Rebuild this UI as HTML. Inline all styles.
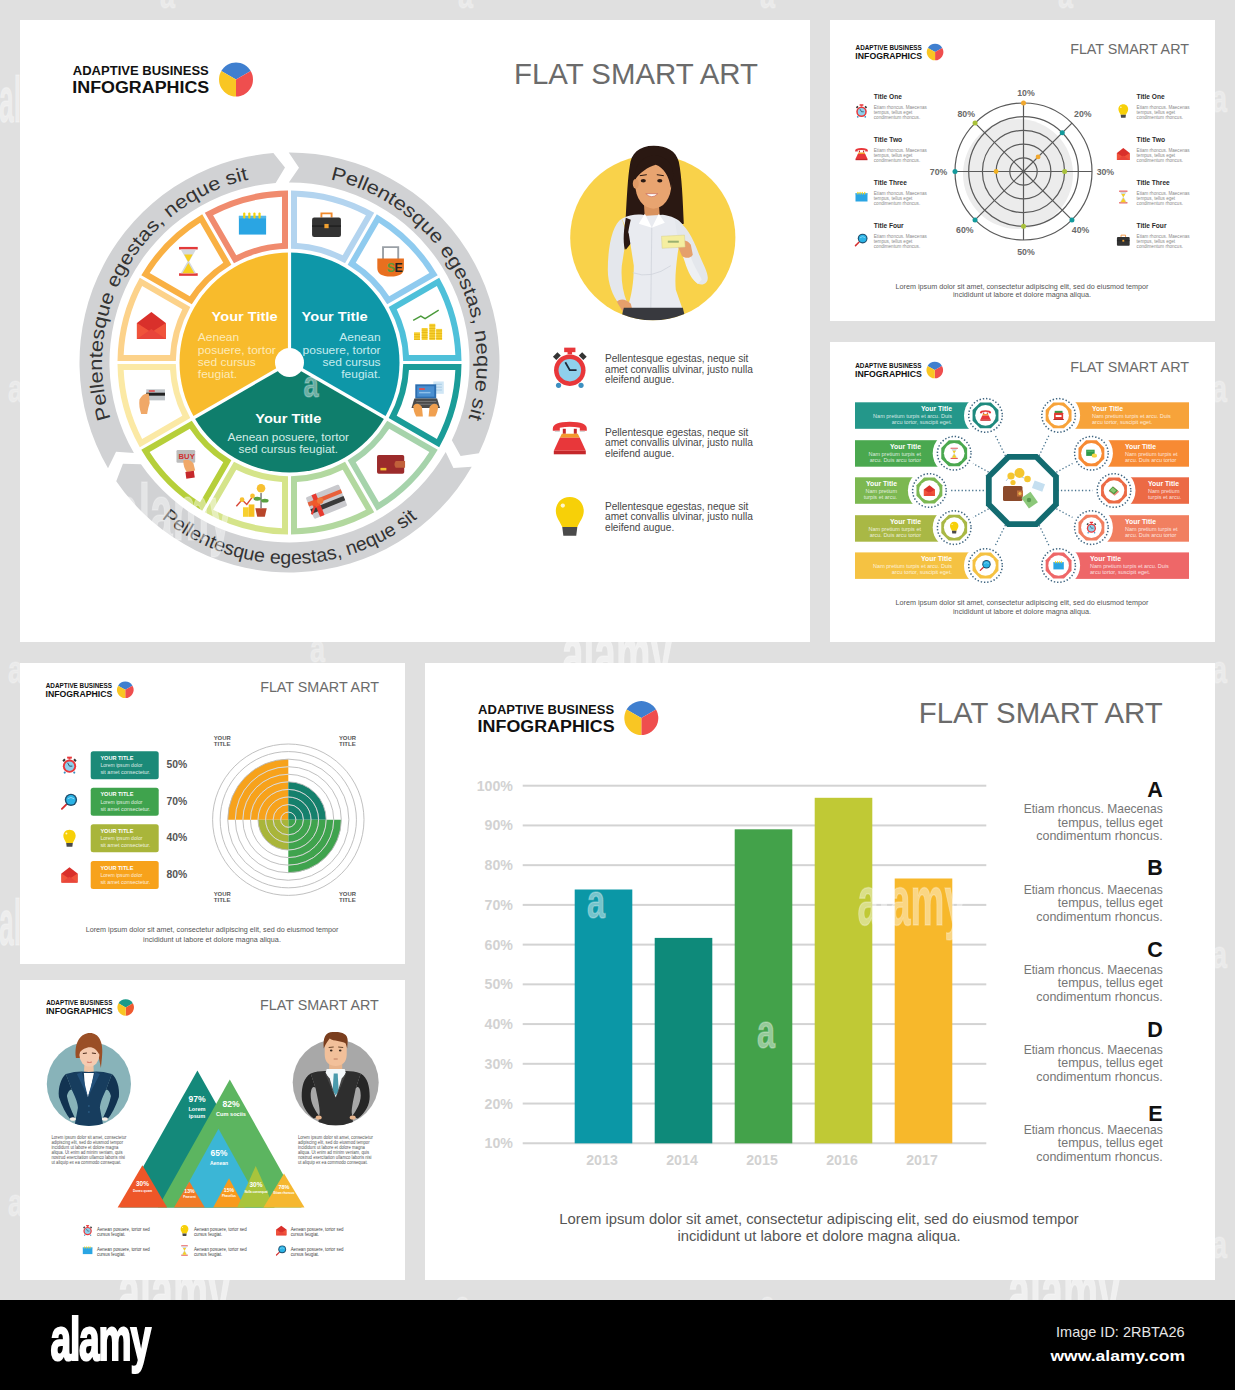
<!DOCTYPE html>
<html><head><meta charset="utf-8"><style>
html,body{margin:0;padding:0;background:#e0e0e0;}
svg{display:block;font-family:"Liberation Sans",sans-serif;}
</style></head><body>
<svg width="1235" height="1390" viewBox="0 0 1235 1390">
<rect x="0" y="0" width="1235" height="1390" fill="#e0e0e0"/>
<rect x="20" y="20" width="790" height="622" fill="#fff"/>
<rect x="830" y="20" width="385" height="301" fill="#fff"/>
<rect x="830" y="342" width="385" height="300" fill="#fff"/>
<rect x="20" y="663" width="385" height="301" fill="#fff"/>
<rect x="20" y="980" width="385" height="300" fill="#fff"/>
<rect x="425" y="663" width="790" height="617" fill="#fff"/>
<text x="72.80" y="75.21" font-size="13.10" fill="#111" font-weight="bold" textLength="136.00" lengthAdjust="spacingAndGlyphs" >ADAPTIVE BUSINESS</text>
<text x="72.30" y="93.47" font-size="17.40" fill="#111" font-weight="bold" textLength="137.00" lengthAdjust="spacingAndGlyphs" >INFOGRAPHICS</text>
<path d="M236.00,79.50 L221.28,71.00 A17.0,17.0 0 0 1 250.72,71.00 Z" fill="#3f7fcf"/>
<path d="M236.00,79.50 L250.72,71.00 A17.0,17.0 0 0 1 236.00,96.50 Z" fill="#ef4e4e"/>
<path d="M236.00,79.50 L236.00,96.50 A17.0,17.0 0 0 1 221.28,71.00 Z" fill="#f9c623"/>
<text x="758.00" y="83.88" font-size="30.20" fill="#6b6b6b" text-anchor="end" textLength="244.00" lengthAdjust="spacingAndGlyphs" >FLAT SMART ART</text>
<path d="M288.75,152.50 A210,210 0 0 1 478.90,453.21 L460.58,456.08 L451.84,440.25 A180,180 0 0 0 288.85,182.50 L299.00,167.73 Z" fill="#d1d2d4"/>
<path d="M471.74,466.85 A210,210 0 0 1 116.24,481.17 L122.92,463.87 L140.99,464.21 A180,180 0 0 0 445.71,451.94 L453.43,468.11 Z" fill="#d1d2d4"/>
<path d="M108.01,468.15 A210,210 0 0 1 273.36,153.12 L285.00,167.55 L275.67,183.03 A180,180 0 0 0 133.94,453.06 L116.08,451.66 Z" fill="#d1d2d4"/>
<defs>
<path id="arcTL" d="M119.57,441.74 A187.5,187.5 0 0 1 273.16,175.71"/>
<path id="arcTR" d="M305.84,175.71 A187.5,187.5 0 0 1 459.43,441.74"/>
<path id="arcB" d="M124.44,478.08 A201.5,201.5 0 0 0 454.56,478.08"/>
</defs>
<text font-size="19" fill="#333" text-anchor="middle"><textPath href="#arcTL" startOffset="50%" textLength="310" lengthAdjust="spacingAndGlyphs">Pellentesque egestas, neque sit</textPath></text>
<text font-size="19" fill="#333" text-anchor="middle"><textPath href="#arcTR" startOffset="50%" textLength="310" lengthAdjust="spacingAndGlyphs">Pellentesque egestas, neque sit</textPath></text>
<text font-size="19" fill="#333" text-anchor="middle"><textPath href="#arcB" startOffset="50%" textLength="277" lengthAdjust="spacingAndGlyphs">Pellentesque egestas, neque sit</textPath></text>
<path d="M291.00,190.51 A172,172 0 0 1 374.20,212.80 L345.05,263.29 A113.7,113.7 0 0 0 291.00,248.81 Z" fill="#b3d4ef"/>
<path d="M297.00,196.67 A166.0,166.0 0 0 1 365.92,215.14 L342.74,255.29 A119.7,119.7 0 0 0 297.00,243.04 Z" fill="#fff"/>
<path d="M376.80,214.30 A172,172 0 0 1 437.70,275.20 L387.21,304.36 A113.7,113.7 0 0 0 347.64,264.79 Z" fill="#8fcbef"/>
<path d="M378.91,222.64 A166.0,166.0 0 0 1 429.36,273.09 L389.21,296.27 A119.7,119.7 0 0 0 355.73,262.79 Z" fill="#fff"/>
<path d="M439.20,277.80 A172,172 0 0 1 461.49,361.00 L403.19,361.00 A113.7,113.7 0 0 0 388.71,306.95 Z" fill="#4ec0d9"/>
<path d="M436.86,286.08 A166.0,166.0 0 0 1 455.33,355.00 L408.96,355.00 A119.7,119.7 0 0 0 396.71,309.26 Z" fill="#fff"/>
<path d="M461.49,364.00 A172,172 0 0 1 439.20,447.20 L388.71,418.05 A113.7,113.7 0 0 0 403.19,364.00 Z" fill="#1a9c98"/>
<path d="M455.33,370.00 A166.0,166.0 0 0 1 436.86,438.92 L396.71,415.74 A119.7,119.7 0 0 0 408.96,370.00 Z" fill="#fff"/>
<path d="M437.70,449.80 A172,172 0 0 1 376.80,510.70 L347.64,460.21 A113.7,113.7 0 0 0 387.21,420.64 Z" fill="#a6d3ab"/>
<path d="M429.36,451.91 A166.0,166.0 0 0 1 378.91,502.36 L355.73,462.21 A119.7,119.7 0 0 0 389.21,428.73 Z" fill="#fff"/>
<path d="M374.20,512.20 A172,172 0 0 1 291.00,534.49 L291.00,476.19 A113.7,113.7 0 0 0 345.05,461.71 Z" fill="#b2d89f"/>
<path d="M365.92,509.86 A166.0,166.0 0 0 1 297.00,528.33 L297.00,481.96 A119.7,119.7 0 0 0 342.74,469.71 Z" fill="#fff"/>
<path d="M288.00,534.49 A172,172 0 0 1 204.80,512.20 L233.95,461.71 A113.7,113.7 0 0 0 288.00,476.19 Z" fill="#d5e48a"/>
<path d="M282.00,528.33 A166.0,166.0 0 0 1 213.08,509.86 L236.26,469.71 A119.7,119.7 0 0 0 282.00,481.96 Z" fill="#fff"/>
<path d="M202.20,510.70 A172,172 0 0 1 141.30,449.80 L191.79,420.64 A113.7,113.7 0 0 0 231.36,460.21 Z" fill="#b6cf3a"/>
<path d="M200.09,502.36 A166.0,166.0 0 0 1 149.64,451.91 L189.79,428.73 A119.7,119.7 0 0 0 223.27,462.21 Z" fill="#fff"/>
<path d="M139.80,447.20 A172,172 0 0 1 117.51,364.00 L175.81,364.00 A113.7,113.7 0 0 0 190.29,418.05 Z" fill="#fbe9a5"/>
<path d="M142.14,438.92 A166.0,166.0 0 0 1 123.67,370.00 L170.04,370.00 A119.7,119.7 0 0 0 182.29,415.74 Z" fill="#fff"/>
<path d="M117.51,361.00 A172,172 0 0 1 139.80,277.80 L190.29,306.95 A113.7,113.7 0 0 0 175.81,361.00 Z" fill="#fcd28a"/>
<path d="M123.67,355.00 A166.0,166.0 0 0 1 142.14,286.08 L182.29,309.26 A119.7,119.7 0 0 0 170.04,355.00 Z" fill="#fff"/>
<path d="M141.30,275.20 A172,172 0 0 1 202.20,214.30 L231.36,264.79 A113.7,113.7 0 0 0 191.79,304.36 Z" fill="#f9b043"/>
<path d="M149.64,273.09 A166.0,166.0 0 0 1 200.09,222.64 L223.27,262.79 A119.7,119.7 0 0 0 189.79,296.27 Z" fill="#fff"/>
<path d="M204.80,212.80 A172,172 0 0 1 288.00,190.51 L288.00,248.81 A113.7,113.7 0 0 0 233.95,263.29 Z" fill="#f08b6e"/>
<path d="M213.08,215.14 A166.0,166.0 0 0 1 282.00,196.67 L282.00,243.04 A119.7,119.7 0 0 0 236.26,255.29 Z" fill="#fff"/>
<g transform="translate(309.51,207.37) scale(0.8500)"><path d="M14,12 L14,7 L26,7 L26,12" stroke="#f08a2c" stroke-width="2.2" fill="none"/><rect x="3" y="12" width="34" height="23" rx="2.5" fill="#333"/><rect x="3" y="21" width="34" height="2" fill="#222"/><rect x="17.5" y="19.5" width="5" height="5" fill="#f0a030"/></g>
<g transform="translate(371.62,242.38) scale(0.9500)"><path d="M12,18 L12,5 L28,5 L28,18" stroke="#9aa0a6" stroke-width="2" fill="none"/><path d="M6,17 L34,17 L34,27 Q34,36 20,36 Q6,36 6,27 Z" fill="#e86f1f"/><text x="16" y="31" font-size="13" font-weight="bold" fill="#5a9a3a">S</text><text x="24" y="31" font-size="13" font-weight="bold" fill="#222">E</text></g>
<g transform="translate(410.63,308.49) scale(0.8500)"><path d="M3,14 L12,9 L17,12 L33,2" stroke="#4a9a3a" stroke-width="1.6" fill="none"/><rect x="4" y="28" width="7" height="9" fill="#f7d030"/><rect x="4" y="30" width="7" height="0.8" fill="#e0b010"/><rect x="4" y="33" width="7" height="0.8" fill="#e0b010"/><rect x="4" y="36" width="7" height="0.8" fill="#e0b010"/><rect x="13" y="23" width="7" height="14" fill="#f7d030"/><rect x="13" y="25" width="7" height="0.8" fill="#e0b010"/><rect x="13" y="28" width="7" height="0.8" fill="#e0b010"/><rect x="13" y="31" width="7" height="0.8" fill="#e0b010"/><rect x="13" y="34" width="7" height="0.8" fill="#e0b010"/><rect x="22" y="18" width="7" height="19" fill="#f7d030"/><rect x="22" y="20" width="7" height="0.8" fill="#e0b010"/><rect x="22" y="23" width="7" height="0.8" fill="#e0b010"/><rect x="22" y="26" width="7" height="0.8" fill="#e0b010"/><rect x="22" y="29" width="7" height="0.8" fill="#e0b010"/><rect x="22" y="32" width="7" height="0.8" fill="#e0b010"/><rect x="22" y="35" width="7" height="0.8" fill="#e0b010"/><rect x="30" y="24" width="7" height="13" fill="#f7d030"/><rect x="30" y="26" width="7" height="0.8" fill="#e0b010"/><rect x="30" y="29" width="7" height="0.8" fill="#e0b010"/><rect x="30" y="32" width="7" height="0.8" fill="#e0b010"/><rect x="30" y="35" width="7" height="0.8" fill="#e0b010"/></g>
<g transform="translate(408.63,380.51) scale(0.9500)"><rect x="26" y="1" width="11" height="13" fill="#cfe6f5"/><path d="M28,4 L35,4 M28,7 L35,7 M28,10 L35,10" stroke="#9cc4e0" stroke-width="0.8"/><rect x="7" y="4" width="22" height="15" fill="#2e6fb0"/><rect x="9" y="6" width="18" height="11" fill="#4a8fd0"/><rect x="11" y="8" width="6" height="2" fill="#e05050"/><rect x="11" y="12" width="12" height="1.5" fill="#8ec0ea"/><path d="M6,19 L30,19 L33,29 L3,29 Z" fill="#4a4a4a"/><path d="M8,22 L29,22 M7,25 L30,25" stroke="#888" stroke-width="0.8"/><path d="M5,27 C7,23 12,24 14,28 L15,38 L8,38 C6,34 5,31 5,27 Z" fill="#f0a050"/><path d="M31,27 C29,23 24,24 22,28 L21,38 L28,38 C30,34 31,31 31,27 Z" fill="#f0a050"/></g>
<g transform="translate(373.62,446.62) scale(0.8500)"><rect x="4" y="10" width="32" height="22" rx="2" fill="#9c2b2b"/><path d="M26,17 L37,17 L37,25 L26,25 Q23,21 26,17 Z" fill="#c1603a"/><rect x="8" y="25" width="7" height="3" fill="#f0c030"/></g>
<g transform="translate(305.51,479.63) scale(1.0500)"><g transform="rotate(-22 20 21)"><rect x="3" y="10" width="34" height="22" rx="1.5" fill="#c9c9cd"/><rect x="3" y="15" width="34" height="4" fill="#e8603a"/><rect x="3" y="22" width="34" height="4.5" fill="#3a3a3a"/><rect x="9" y="10" width="4.5" height="22" fill="#e83a30"/></g><circle cx="10" cy="23" r="3.6" fill="#f05a2a"/><circle cx="14" cy="20" r="3" fill="#f07a3a"/><path d="M9,25 L6,33 M12,25 L14,33" stroke="#e83a30" stroke-width="2"/></g>
<g transform="translate(233.49,481.63) scale(0.9500)"><path d="M3,26 L9,19 L14,24 L20,16" stroke="#d84a3a" stroke-width="1.5" fill="none"/><circle cx="9" cy="19" r="2.5" fill="#f7c030"/><circle cx="20" cy="15" r="2.5" fill="#f7c030"/><rect x="10" y="27" width="6" height="10" fill="#f7d030"/><rect x="16" y="24" width="6" height="13" fill="#f7c020"/><circle cx="29" cy="7" r="4.5" fill="#f7c030"/><path d="M29,12 L29,28" stroke="#333" stroke-width="1"/><ellipse cx="25" cy="18" rx="4" ry="2" fill="#5aa040"/><ellipse cx="33" cy="20" rx="4" ry="2" fill="#5aa040"/><path d="M23,28 L35,28 L33,37 L25,37 Z" fill="#b8452a"/></g>
<g transform="translate(171.38,446.62) scale(0.8500)"><rect x="6" y="4" width="22" height="15" rx="1.5" fill="#bcbcbc"/><text x="8.5" y="14.5" font-size="9" font-weight="bold" fill="#d03030">BUY</text><path d="M14,16 Q22,14 26,20 L28,28 L18,30 Q14,24 14,16 Z" fill="#f0a868"/><rect x="17" y="29" width="10" height="8" fill="#c5282b" transform="rotate(-8 22 33)"/></g>
<g transform="translate(134.37,382.51) scale(0.8500)"><rect x="14" y="8" width="22" height="13" fill="#bfc4c8"/><rect x="14" y="12" width="22" height="3.5" fill="#222"/><rect x="17" y="9" width="7" height="2" fill="#e05050"/><path d="M6,20 Q10,12 17,13 L18,24 Q16,30 15,37 L8,37 Q5,28 6,20 Z" fill="#f0a868"/></g>
<g transform="translate(134.37,308.49) scale(0.8500)"><path d="M3,17 L20,4 L37,17 L37,36 L3,36 Z" fill="#d9302b"/><path d="M3,17 L20,28 L37,17 L37,36 L3,36 Z" fill="#f0533a"/><path d="M3,36 L20,24 L37,36 Z" fill="#e8453a"/></g>
<g transform="translate(171.38,244.38) scale(0.8500)"><rect x="9" y="3" width="22" height="3" fill="#e33a3a"/><rect x="9" y="34" width="22" height="3" fill="#e33a3a"/><path d="M11,6 L29,6 L21,20 L29,34 L11,34 L19,20 Z" fill="#d5d9de"/><path d="M15,12 L25,12 L20.5,20 L19.5,20 Z" fill="#f7d020"/><path d="M20,22 L27,34 L13,34 Z" fill="#f7d020"/></g>
<g transform="translate(235.49,207.37) scale(0.8500)"><rect x="4" y="10" width="32" height="22" fill="#2aa5e3"/><rect x="4" y="10" width="32" height="3" fill="#53b8ea"/><rect x="9" y="6" width="2.6" height="7" rx="1.2" fill="#f5d20f"/><rect x="15" y="6" width="2.6" height="7" rx="1.2" fill="#f5d20f"/><rect x="21" y="6" width="2.6" height="7" rx="1.2" fill="#f5d20f"/><rect x="27" y="6" width="2.6" height="7" rx="1.2" fill="#f5d20f"/></g>
<path d="M289.50,362.50 L289.50,252.50 A110,110 0 0 1 384.76,417.50 Z" fill="#0e97a8"/>
<path d="M289.50,362.50 L384.76,417.50 A110,110 0 0 1 194.24,417.50 Z" fill="#0f7e6c"/>
<path d="M289.50,362.50 L194.24,417.50 A110,110 0 0 1 289.50,252.50 Z" fill="#f8bb2c"/>
<line x1="289.5" y1="362.5" x2="289.50" y2="250.50" stroke="#fff" stroke-width="3.2"/>
<line x1="289.5" y1="362.5" x2="386.49" y2="418.50" stroke="#fff" stroke-width="3.2"/>
<line x1="289.5" y1="362.5" x2="192.51" y2="418.50" stroke="#fff" stroke-width="3.2"/>
<circle cx="289.5" cy="362.5" r="14.5" fill="#fff"/>
<text x="244.60" y="321.00" font-size="13.50" fill="#fff" font-weight="bold" text-anchor="middle" textLength="66.00" lengthAdjust="spacingAndGlyphs" >Your Title</text>
<text x="334.60" y="321.00" font-size="13.50" fill="#fff" font-weight="bold" text-anchor="middle" textLength="66.00" lengthAdjust="spacingAndGlyphs" >Your Title</text>
<text x="288.30" y="423.20" font-size="13.50" fill="#fff" font-weight="bold" text-anchor="middle" textLength="66.00" lengthAdjust="spacingAndGlyphs" >Your Title</text>
<text x="197.80" y="341.30" font-size="11.60" fill="#fdeab8" textLength="41.35" lengthAdjust="spacingAndGlyphs" >Aenean</text>
<text x="380.60" y="341.30" font-size="11.60" fill="#c6ecef" text-anchor="end" textLength="41.35" lengthAdjust="spacingAndGlyphs" >Aenean</text>
<text x="197.80" y="353.60" font-size="11.60" fill="#fdeab8" textLength="78.00" lengthAdjust="spacingAndGlyphs" >posuere, tortor</text>
<text x="380.60" y="353.60" font-size="11.60" fill="#c6ecef" text-anchor="end" textLength="78.00" lengthAdjust="spacingAndGlyphs" >posuere, tortor</text>
<text x="197.80" y="365.90" font-size="11.60" fill="#fdeab8" textLength="57.99" lengthAdjust="spacingAndGlyphs" >sed cursus</text>
<text x="380.60" y="365.90" font-size="11.60" fill="#c6ecef" text-anchor="end" textLength="57.99" lengthAdjust="spacingAndGlyphs" >sed cursus</text>
<text x="197.80" y="378.20" font-size="11.60" fill="#fdeab8" textLength="39.34" lengthAdjust="spacingAndGlyphs" >feugiat.</text>
<text x="380.60" y="378.20" font-size="11.60" fill="#c6ecef" text-anchor="end" textLength="39.34" lengthAdjust="spacingAndGlyphs" >feugiat.</text>
<text x="288.30" y="441.00" font-size="11.60" fill="#d3ece6" text-anchor="middle" textLength="121.50" lengthAdjust="spacingAndGlyphs" >Aenean posuere, tortor</text>
<text x="288.30" y="453.30" font-size="11.60" fill="#d3ece6" text-anchor="middle" textLength="99.70" lengthAdjust="spacingAndGlyphs" >sed cursus feugiat.</text>
<circle cx="652.8" cy="237.7" r="82.6" fill="#f9d24a"/>
<clipPath id="pc1"><circle cx="0" cy="0" r="82.6"/><rect x="-200" y="-200" width="400" height="200"/></clipPath><g transform="translate(652.8,237.7)"><g clip-path="url(#pc1)"><path d="M1,-92 C-14,-92 -22,-84 -23,-72 C-25,-60 -26,-40 -27,-22 C-28,-5 -29,6 -27,12 L-19,2 L-17,-18 L18,-18 L22,-12 L31,-14 C30,-38 29,-62 26,-76 C23,-87 14,-92 1,-92 Z" fill="#2a1812"/><path d="M-9,-36 L6,-36 L7,-20 L-8,-20 Z" fill="#d9925e"/><path d="M-31,-19 C-22,-24 -12,-24 -6,-22 L10,-23 C18,-22 26,-19 30,-13 L25,15 C23,30 22,42 23,52 L30,72 L-26,72 C-21,58 -19,44 -19,28 L-24,-4 Z" fill="#e9ebf0"/><path d="M-31,-19 C-40,-14 -45,8 -45,32 C-45,46 -40,58 -34,66 L-26,64 C-30,54 -32,42 -31,28 L-26,-4 Z" fill="#e4e7ec"/><path d="M22,-18 C33,-14 40,0 46,16 C50,26 55,34 55,40 C55,46 50,48 45,46 C40,42 36,34 33,24 L29,14 L24,-5 Z" fill="#e4e7ec"/><path d="M45,46 C39,42 35,34 32,24 L28,13 L35,11 L39,22 C42,30 47,37 49,42 Z" fill="#eef0f3"/><path d="M-27,-20 C-29,-8 -30,2 -28,12 L-25,8 C-26,0 -24,-10 -22,-18 Z" fill="#2a1812"/><path d="M-8,-24 L-1,-10 L-14,-14 Z" fill="#fff"/><path d="M6,-24 L-1,-10 L12,-15 Z" fill="#fff"/><path d="M-1,-10 L-2,70" stroke="#cfd3da" stroke-width="0.8"/><path d="M-20,35 Q-2,42 18,28" stroke="#cfd3da" stroke-width="0.8" fill="none"/><path d="M24,6 C28,1 35,2 38,7 L40,17 C38,21 32,21 29,18 Z" fill="#e5a06c"/><rect x="9" y="-2" width="23" height="12" fill="#f5eea0" stroke="#d8d090" stroke-width="0.5" transform="rotate(-3 20 4)"/><rect x="15" y="3" width="11" height="2" fill="#9ab070"/><path d="M-36,64 C-32,60 -26,62 -22,66 L-20,74 L-30,74 Z" fill="#e5a06c"/><path d="M-29,70 L30,70 L36,95 L-35,95 Z" fill="#38393e"/><ellipse cx="0.5" cy="-53" rx="18" ry="24" fill="#e8a470"/><ellipse cx="-17" cy="-54" rx="3" ry="5" fill="#e09a66"/><path d="M-18,-58 C-20,-86 14,-90 20,-68 C21,-62 20,-55 18,-50 C16,-62 11,-70 3,-73 C-5,-71 -13,-65 -18,-58 Z" fill="#2a1812"/><ellipse cx="-9.5" cy="-57" rx="2.6" ry="1.7" fill="#2a1a14"/><ellipse cx="7" cy="-57" rx="2.6" ry="1.7" fill="#2a1a14"/><path d="M-13,-62 L-6,-63" stroke="#2a1812" stroke-width="1"/><path d="M4,-63 L11,-62" stroke="#2a1812" stroke-width="1"/><path d="M-7,-44 Q-1,-38 5,-44 Z" fill="#fff" stroke="#c86a5a" stroke-width="0.7"/></g></g>
<g transform="translate(547.30,345.40) scale(1.1250)"><rect x="15" y="2" width="10" height="4" fill="#e8373a"/><rect x="18" y="5" width="4" height="3" fill="#e8373a"/><path d="M5,10 L9,6 L12,9 L8,13 Z" fill="#333"/><path d="M35,10 L31,6 L28,9 L32,13 Z" fill="#333"/><circle cx="10" cy="35.5" r="2.3" fill="#3c8fc0"/><circle cx="30" cy="35.5" r="2.3" fill="#3c8fc0"/><circle cx="20" cy="22" r="14" fill="#e8373a"/><circle cx="20" cy="22" r="10" fill="#8fd0ec"/><path d="M16,15 L20,22 L26,22" stroke="#1e2a3a" stroke-width="1.6" fill="none"/></g>
<text x="605.00" y="362.30" font-size="10.60" fill="#474747" textLength="143.43" lengthAdjust="spacingAndGlyphs" >Pellentesque egestas, neque sit</text>
<text x="605.00" y="372.80" font-size="10.60" fill="#474747" textLength="147.90" lengthAdjust="spacingAndGlyphs" >amet convallis ulvinar, justo nulla</text>
<text x="605.00" y="383.30" font-size="10.60" fill="#474747" textLength="69.20" lengthAdjust="spacingAndGlyphs" >eleifend augue.</text>
<g transform="translate(549.80,417.80) scale(1.0000)"><path d="M3,11 Q3,4 20,4 Q37,4 37,11 L37,13 L30,13 L30,10 Q20,8 10,10 L10,13 L3,13 Z" fill="#e8373a"/><path d="M5,13 L10,13 L10,14 L5,14 Z" fill="#c9c9c9"/><path d="M30,13 L35,13 L35,14 L30,14 Z" fill="#c9c9c9"/><rect x="13" y="11" width="3" height="5" fill="#c5282b"/><rect x="24" y="11" width="3" height="5" fill="#c5282b"/><path d="M12,16 L28,16 L30,20 L10,20 Z" fill="#f39a2c"/><path d="M10,20 L30,20 L36,33 L4,33 Z" fill="#e8373a"/><rect x="4" y="33" width="32" height="3.5" fill="#c5282b"/></g>
<text x="605.00" y="435.80" font-size="10.60" fill="#474747" textLength="143.43" lengthAdjust="spacingAndGlyphs" >Pellentesque egestas, neque sit</text>
<text x="605.00" y="446.30" font-size="10.60" fill="#474747" textLength="147.90" lengthAdjust="spacingAndGlyphs" >amet convallis ulvinar, justo nulla</text>
<text x="605.00" y="456.80" font-size="10.60" fill="#474747" textLength="69.20" lengthAdjust="spacingAndGlyphs" >eleifend augue.</text>
<g transform="translate(548.30,494.80) scale(1.0750)"><path d="M20,2 C28,2 33,8 33,15 C33,21 29,25 27,30 L13,30 C11,25 7,21 7,15 C7,8 12,2 20,2 Z" fill="#f7d008"/><circle cx="13.5" cy="10" r="2" fill="#fff" fill-opacity="0.8"/><path d="M13,30 L27,30 L26,38 L14,38 Z" fill="#4a4a4a"/></g>
<text x="605.00" y="509.70" font-size="10.60" fill="#474747" textLength="143.43" lengthAdjust="spacingAndGlyphs" >Pellentesque egestas, neque sit</text>
<text x="605.00" y="520.20" font-size="10.60" fill="#474747" textLength="147.90" lengthAdjust="spacingAndGlyphs" >amet convallis ulvinar, justo nulla</text>
<text x="605.00" y="530.70" font-size="10.60" fill="#474747" textLength="69.20" lengthAdjust="spacingAndGlyphs" >eleifend augue.</text>
<text x="855.60" y="49.99" font-size="6.38" fill="#111" font-weight="bold" textLength="66.23" lengthAdjust="spacingAndGlyphs" >ADAPTIVE BUSINESS</text>
<text x="855.36" y="58.88" font-size="8.47" fill="#111" font-weight="bold" textLength="66.72" lengthAdjust="spacingAndGlyphs" >INFOGRAPHICS</text>
<path d="M935.08,52.08 L927.91,47.94 A8.279,8.279 0 0 1 942.25,47.94 Z" fill="#3f7fcf"/>
<path d="M935.08,52.08 L942.25,47.94 A8.279,8.279 0 0 1 935.08,60.36 Z" fill="#ef4e4e"/>
<path d="M935.08,52.08 L935.08,60.36 A8.279,8.279 0 0 1 927.91,47.94 Z" fill="#f9c623"/>
<text x="1189.00" y="54.12" font-size="14.71" fill="#6b6b6b" text-anchor="end" textLength="118.83" lengthAdjust="spacingAndGlyphs" >FLAT SMART ART</text>
<circle cx="1018" cy="174" r="55" fill="#ececec"/>
<circle cx="1023.5" cy="171.5" r="13.70" fill="none" stroke="#5a5a5a" stroke-width="1.2"/>
<circle cx="1023.5" cy="171.5" r="27.40" fill="none" stroke="#5a5a5a" stroke-width="1.2"/>
<circle cx="1023.5" cy="171.5" r="41.10" fill="none" stroke="#5a5a5a" stroke-width="1.2"/>
<circle cx="1023.5" cy="171.5" r="54.80" fill="none" stroke="#5a5a5a" stroke-width="1.2"/>
<circle cx="1023.5" cy="171.5" r="68.50" fill="none" stroke="#5a5a5a" stroke-width="1.2"/>
<line x1="1023.5" y1="171.5" x2="1023.50" y2="103.00" stroke="#5a5a5a" stroke-width="1.2"/>
<line x1="1023.5" y1="171.5" x2="1071.94" y2="123.06" stroke="#5a5a5a" stroke-width="1.2"/>
<line x1="1023.5" y1="171.5" x2="1092.00" y2="171.50" stroke="#5a5a5a" stroke-width="1.2"/>
<line x1="1023.5" y1="171.5" x2="1071.94" y2="219.94" stroke="#5a5a5a" stroke-width="1.2"/>
<line x1="1023.5" y1="171.5" x2="1023.50" y2="240.00" stroke="#5a5a5a" stroke-width="1.2"/>
<line x1="1023.5" y1="171.5" x2="975.06" y2="219.94" stroke="#5a5a5a" stroke-width="1.2"/>
<line x1="1023.5" y1="171.5" x2="955.00" y2="171.50" stroke="#5a5a5a" stroke-width="1.2"/>
<line x1="1023.5" y1="171.5" x2="975.06" y2="123.06" stroke="#5a5a5a" stroke-width="1.2"/>
<circle cx="1023.50" cy="103.00" r="2.5" fill="#f0a830"/>
<circle cx="1062.25" cy="132.75" r="2.5" fill="#139a9c"/>
<circle cx="1064.60" cy="171.50" r="2.5" fill="#a8c03a"/>
<circle cx="1071.94" cy="219.94" r="2.5" fill="#139a9c"/>
<circle cx="1023.50" cy="226.30" r="2.5" fill="#a8c03a"/>
<circle cx="975.06" cy="219.94" r="2.5" fill="#139a9c"/>
<circle cx="955.00" cy="171.50" r="2.5" fill="#139a9c"/>
<circle cx="975.06" cy="123.06" r="2.5" fill="#a8c03a"/>
<circle cx="1038.07" cy="156.93" r="2.4" fill="#f0a830"/>
<circle cx="996.10" cy="171.50" r="2.4" fill="#f0b020"/>
<text x="1026.00" y="95.70" font-size="9.60" fill="#6a6a6a" font-weight="bold" text-anchor="middle" textLength="17.50" lengthAdjust="spacingAndGlyphs" >10%</text>
<text x="1082.80" y="116.80" font-size="9.60" fill="#6a6a6a" font-weight="bold" text-anchor="middle" textLength="17.50" lengthAdjust="spacingAndGlyphs" >20%</text>
<text x="1105.40" y="174.80" font-size="9.60" fill="#6a6a6a" font-weight="bold" text-anchor="middle" textLength="17.50" lengthAdjust="spacingAndGlyphs" >30%</text>
<text x="1080.60" y="232.70" font-size="9.60" fill="#6a6a6a" font-weight="bold" text-anchor="middle" textLength="17.50" lengthAdjust="spacingAndGlyphs" >40%</text>
<text x="1026.00" y="254.60" font-size="9.60" fill="#6a6a6a" font-weight="bold" text-anchor="middle" textLength="17.50" lengthAdjust="spacingAndGlyphs" >50%</text>
<text x="964.80" y="232.70" font-size="9.60" fill="#6a6a6a" font-weight="bold" text-anchor="middle" textLength="17.50" lengthAdjust="spacingAndGlyphs" >60%</text>
<text x="938.60" y="174.80" font-size="9.60" fill="#6a6a6a" font-weight="bold" text-anchor="middle" textLength="17.50" lengthAdjust="spacingAndGlyphs" >70%</text>
<text x="966.20" y="116.80" font-size="9.60" fill="#6a6a6a" font-weight="bold" text-anchor="middle" textLength="17.50" lengthAdjust="spacingAndGlyphs" >80%</text>
<text x="873.80" y="99.00" font-size="6.90" fill="#2b2b2b" font-weight="bold" textLength="28.04" lengthAdjust="spacingAndGlyphs" >Title One</text>
<text x="873.80" y="108.90" font-size="5.00" fill="#8a8a8a" textLength="53.00" lengthAdjust="spacingAndGlyphs" >Etiam rhoncus. Maecenas</text>
<text x="873.80" y="114.10" font-size="5.00" fill="#8a8a8a" textLength="38.48" lengthAdjust="spacingAndGlyphs" >tempus, tellus eget</text>
<text x="873.80" y="119.30" font-size="5.00" fill="#8a8a8a" textLength="46.38" lengthAdjust="spacingAndGlyphs" >condimentum rhoncus.</text>
<g transform="translate(854.00,103.50) scale(0.3750)"><rect x="15" y="2" width="10" height="4" fill="#e8373a"/><rect x="18" y="5" width="4" height="3" fill="#e8373a"/><path d="M5,10 L9,6 L12,9 L8,13 Z" fill="#333"/><path d="M35,10 L31,6 L28,9 L32,13 Z" fill="#333"/><circle cx="10" cy="35.5" r="2.3" fill="#3c8fc0"/><circle cx="30" cy="35.5" r="2.3" fill="#3c8fc0"/><circle cx="20" cy="22" r="14" fill="#e8373a"/><circle cx="20" cy="22" r="10" fill="#8fd0ec"/><path d="M16,15 L20,22 L26,22" stroke="#1e2a3a" stroke-width="1.6" fill="none"/></g>
<text x="873.80" y="142.00" font-size="6.90" fill="#2b2b2b" font-weight="bold" textLength="28.40" lengthAdjust="spacingAndGlyphs" >Title Two</text>
<text x="873.80" y="151.90" font-size="5.00" fill="#8a8a8a" textLength="53.00" lengthAdjust="spacingAndGlyphs" >Etiam rhoncus. Maecenas</text>
<text x="873.80" y="157.10" font-size="5.00" fill="#8a8a8a" textLength="38.48" lengthAdjust="spacingAndGlyphs" >tempus, tellus eget</text>
<text x="873.80" y="162.30" font-size="5.00" fill="#8a8a8a" textLength="46.38" lengthAdjust="spacingAndGlyphs" >condimentum rhoncus.</text>
<g transform="translate(854.00,146.50) scale(0.3750)"><path d="M3,11 Q3,4 20,4 Q37,4 37,11 L37,13 L30,13 L30,10 Q20,8 10,10 L10,13 L3,13 Z" fill="#e8373a"/><path d="M5,13 L10,13 L10,14 L5,14 Z" fill="#c9c9c9"/><path d="M30,13 L35,13 L35,14 L30,14 Z" fill="#c9c9c9"/><rect x="13" y="11" width="3" height="5" fill="#c5282b"/><rect x="24" y="11" width="3" height="5" fill="#c5282b"/><path d="M12,16 L28,16 L30,20 L10,20 Z" fill="#f39a2c"/><path d="M10,20 L30,20 L36,33 L4,33 Z" fill="#e8373a"/><rect x="4" y="33" width="32" height="3.5" fill="#c5282b"/></g>
<text x="873.80" y="185.00" font-size="6.90" fill="#2b2b2b" font-weight="bold" textLength="33.15" lengthAdjust="spacingAndGlyphs" >Title Three</text>
<text x="873.80" y="194.90" font-size="5.00" fill="#8a8a8a" textLength="53.00" lengthAdjust="spacingAndGlyphs" >Etiam rhoncus. Maecenas</text>
<text x="873.80" y="200.10" font-size="5.00" fill="#8a8a8a" textLength="38.48" lengthAdjust="spacingAndGlyphs" >tempus, tellus eget</text>
<text x="873.80" y="205.30" font-size="5.00" fill="#8a8a8a" textLength="46.38" lengthAdjust="spacingAndGlyphs" >condimentum rhoncus.</text>
<g transform="translate(854.00,189.50) scale(0.3750)"><rect x="4" y="10" width="32" height="22" fill="#2aa5e3"/><rect x="4" y="10" width="32" height="3" fill="#53b8ea"/><rect x="9" y="6" width="2.6" height="7" rx="1.2" fill="#f5d20f"/><rect x="15" y="6" width="2.6" height="7" rx="1.2" fill="#f5d20f"/><rect x="21" y="6" width="2.6" height="7" rx="1.2" fill="#f5d20f"/><rect x="27" y="6" width="2.6" height="7" rx="1.2" fill="#f5d20f"/></g>
<text x="873.80" y="228.00" font-size="6.90" fill="#2b2b2b" font-weight="bold" textLength="29.86" lengthAdjust="spacingAndGlyphs" >Title Four</text>
<text x="873.80" y="237.90" font-size="5.00" fill="#8a8a8a" textLength="53.00" lengthAdjust="spacingAndGlyphs" >Etiam rhoncus. Maecenas</text>
<text x="873.80" y="243.10" font-size="5.00" fill="#8a8a8a" textLength="38.48" lengthAdjust="spacingAndGlyphs" >tempus, tellus eget</text>
<text x="873.80" y="248.30" font-size="5.00" fill="#8a8a8a" textLength="46.38" lengthAdjust="spacingAndGlyphs" >condimentum rhoncus.</text>
<g transform="translate(854.00,232.50) scale(0.3750)"><path d="M13,26 L4,35" stroke="#d63030" stroke-width="4" stroke-linecap="round"/><circle cx="23" cy="16" r="13" fill="#1e4f6e"/><circle cx="23" cy="16" r="10" fill="#2ab3e6"/><path d="M16,14 Q23,8 30,14" stroke="#8fdaf5" stroke-width="2" fill="none"/></g>
<text x="1136.60" y="99.00" font-size="6.90" fill="#2b2b2b" font-weight="bold" textLength="28.04" lengthAdjust="spacingAndGlyphs" >Title One</text>
<text x="1136.60" y="108.90" font-size="5.00" fill="#8a8a8a" textLength="53.00" lengthAdjust="spacingAndGlyphs" >Etiam rhoncus. Maecenas</text>
<text x="1136.60" y="114.10" font-size="5.00" fill="#8a8a8a" textLength="38.48" lengthAdjust="spacingAndGlyphs" >tempus, tellus eget</text>
<text x="1136.60" y="119.30" font-size="5.00" fill="#8a8a8a" textLength="46.38" lengthAdjust="spacingAndGlyphs" >condimentum rhoncus.</text>
<g transform="translate(1115.80,103.50) scale(0.3750)"><path d="M20,2 C28,2 33,8 33,15 C33,21 29,25 27,30 L13,30 C11,25 7,21 7,15 C7,8 12,2 20,2 Z" fill="#f7d008"/><circle cx="13.5" cy="10" r="2" fill="#fff" fill-opacity="0.8"/><path d="M13,30 L27,30 L26,38 L14,38 Z" fill="#4a4a4a"/></g>
<text x="1136.60" y="142.00" font-size="6.90" fill="#2b2b2b" font-weight="bold" textLength="28.40" lengthAdjust="spacingAndGlyphs" >Title Two</text>
<text x="1136.60" y="151.90" font-size="5.00" fill="#8a8a8a" textLength="53.00" lengthAdjust="spacingAndGlyphs" >Etiam rhoncus. Maecenas</text>
<text x="1136.60" y="157.10" font-size="5.00" fill="#8a8a8a" textLength="38.48" lengthAdjust="spacingAndGlyphs" >tempus, tellus eget</text>
<text x="1136.60" y="162.30" font-size="5.00" fill="#8a8a8a" textLength="46.38" lengthAdjust="spacingAndGlyphs" >condimentum rhoncus.</text>
<g transform="translate(1115.80,146.50) scale(0.3750)"><path d="M3,17 L20,4 L37,17 L37,36 L3,36 Z" fill="#d9302b"/><path d="M3,17 L20,28 L37,17 L37,36 L3,36 Z" fill="#f0533a"/><path d="M3,36 L20,24 L37,36 Z" fill="#e8453a"/></g>
<text x="1136.60" y="185.00" font-size="6.90" fill="#2b2b2b" font-weight="bold" textLength="33.15" lengthAdjust="spacingAndGlyphs" >Title Three</text>
<text x="1136.60" y="194.90" font-size="5.00" fill="#8a8a8a" textLength="53.00" lengthAdjust="spacingAndGlyphs" >Etiam rhoncus. Maecenas</text>
<text x="1136.60" y="200.10" font-size="5.00" fill="#8a8a8a" textLength="38.48" lengthAdjust="spacingAndGlyphs" >tempus, tellus eget</text>
<text x="1136.60" y="205.30" font-size="5.00" fill="#8a8a8a" textLength="46.38" lengthAdjust="spacingAndGlyphs" >condimentum rhoncus.</text>
<g transform="translate(1115.80,189.50) scale(0.3750)"><rect x="9" y="3" width="22" height="3" fill="#e33a3a"/><rect x="9" y="34" width="22" height="3" fill="#e33a3a"/><path d="M11,6 L29,6 L21,20 L29,34 L11,34 L19,20 Z" fill="#d5d9de"/><path d="M15,12 L25,12 L20.5,20 L19.5,20 Z" fill="#f7d020"/><path d="M20,22 L27,34 L13,34 Z" fill="#f7d020"/></g>
<text x="1136.60" y="228.00" font-size="6.90" fill="#2b2b2b" font-weight="bold" textLength="29.86" lengthAdjust="spacingAndGlyphs" >Title Four</text>
<text x="1136.60" y="237.90" font-size="5.00" fill="#8a8a8a" textLength="53.00" lengthAdjust="spacingAndGlyphs" >Etiam rhoncus. Maecenas</text>
<text x="1136.60" y="243.10" font-size="5.00" fill="#8a8a8a" textLength="38.48" lengthAdjust="spacingAndGlyphs" >tempus, tellus eget</text>
<text x="1136.60" y="248.30" font-size="5.00" fill="#8a8a8a" textLength="46.38" lengthAdjust="spacingAndGlyphs" >condimentum rhoncus.</text>
<g transform="translate(1115.80,232.50) scale(0.3750)"><path d="M14,12 L14,7 L26,7 L26,12" stroke="#f08a2c" stroke-width="2.2" fill="none"/><rect x="3" y="12" width="34" height="23" rx="2.5" fill="#333"/><rect x="3" y="21" width="34" height="2" fill="#222"/><rect x="17.5" y="19.5" width="5" height="5" fill="#f0a030"/></g>
<text x="1022.00" y="288.90" font-size="7.40" fill="#555" text-anchor="middle" textLength="253.00" lengthAdjust="spacingAndGlyphs" >Lorem ipsum dolor sit amet, consectetur adipiscing elit, sed do eiusmod tempor</text><text x="1022.00" y="297.30" font-size="7.40" fill="#555" text-anchor="middle" textLength="137.95" lengthAdjust="spacingAndGlyphs" >incididunt ut labore et dolore magna aliqua.</text>
<text x="855.30" y="367.99" font-size="6.38" fill="#111" font-weight="bold" textLength="66.23" lengthAdjust="spacingAndGlyphs" >ADAPTIVE BUSINESS</text>
<text x="855.06" y="376.88" font-size="8.47" fill="#111" font-weight="bold" textLength="66.72" lengthAdjust="spacingAndGlyphs" >INFOGRAPHICS</text>
<path d="M934.78,370.08 L927.61,365.94 A8.279,8.279 0 0 1 941.95,365.94 Z" fill="#3f7fcf"/>
<path d="M934.78,370.08 L941.95,365.94 A8.279,8.279 0 0 1 934.78,378.36 Z" fill="#ef4e4e"/>
<path d="M934.78,370.08 L934.78,378.36 A8.279,8.279 0 0 1 927.61,365.94 Z" fill="#f9c623"/>
<text x="1189.00" y="372.12" font-size="14.71" fill="#6b6b6b" text-anchor="end" textLength="118.83" lengthAdjust="spacingAndGlyphs" >FLAT SMART ART</text>
<line x1="1022.4" y1="490.5" x2="985.5" y2="415.4" stroke="#4a7590" stroke-width="1.3" stroke-dasharray="1.3 2.2"/>
<line x1="1022.4" y1="490.5" x2="954.2" y2="453.3" stroke="#4a7590" stroke-width="1.3" stroke-dasharray="1.3 2.2"/>
<line x1="1022.4" y1="490.5" x2="929.4" y2="490.5" stroke="#4a7590" stroke-width="1.3" stroke-dasharray="1.3 2.2"/>
<line x1="1022.4" y1="490.5" x2="954.2" y2="527.6" stroke="#4a7590" stroke-width="1.3" stroke-dasharray="1.3 2.2"/>
<line x1="1022.4" y1="490.5" x2="985.5" y2="565.5" stroke="#4a7590" stroke-width="1.3" stroke-dasharray="1.3 2.2"/>
<line x1="1022.4" y1="490.5" x2="1058.6" y2="415.4" stroke="#4a7590" stroke-width="1.3" stroke-dasharray="1.3 2.2"/>
<line x1="1022.4" y1="490.5" x2="1091.4" y2="453.3" stroke="#4a7590" stroke-width="1.3" stroke-dasharray="1.3 2.2"/>
<line x1="1022.4" y1="490.5" x2="1114" y2="490.5" stroke="#4a7590" stroke-width="1.3" stroke-dasharray="1.3 2.2"/>
<line x1="1022.4" y1="490.5" x2="1091.4" y2="527.6" stroke="#4a7590" stroke-width="1.3" stroke-dasharray="1.3 2.2"/>
<line x1="1022.4" y1="490.5" x2="1058.6" y2="565.5" stroke="#4a7590" stroke-width="1.3" stroke-dasharray="1.3 2.2"/>
<rect x="855" y="402.3" width="130.5" height="26.5" fill="#24978a"/>
<rect x="855" y="440.2" width="99.20000000000005" height="26.5" fill="#4aa84f"/>
<rect x="855" y="477.3" width="74.39999999999998" height="26.5" fill="#7cb851"/>
<rect x="855" y="515.2" width="99.20000000000005" height="26.5" fill="#a9b845"/>
<rect x="855" y="552.4" width="130.5" height="26.5" fill="#f5c242"/>
<rect x="1058.6" y="402.3" width="130.4000000000001" height="26.5" fill="#f7a33a"/>
<rect x="1091.4" y="440.2" width="97.59999999999991" height="26.5" fill="#f78a33"/>
<rect x="1114" y="477.3" width="75" height="26.5" fill="#ec6a45"/>
<rect x="1091.4" y="515.2" width="97.59999999999991" height="26.5" fill="#f17f60"/>
<rect x="1058.6" y="552.4" width="130.4000000000001" height="26.5" fill="#ee6768"/>
<circle cx="985.5" cy="415.4" r="21.5" fill="#fff"/>
<circle cx="985.5" cy="415.4" r="16.8" fill="none" stroke="#3f6580" stroke-width="1.5" stroke-dasharray="1.4 1.9"/>
<polygon points="990.86,402.47 998.43,410.04 998.43,420.76 990.86,428.33 980.14,428.33 972.57,420.76 972.57,410.04 980.14,402.47" fill="#1f8a7e"/>
<circle cx="985.5" cy="415.4" r="10.3" fill="#fff"/>
<g transform="translate(979.00,408.90) scale(0.3250)"><path d="M3,11 Q3,4 20,4 Q37,4 37,11 L37,13 L30,13 L30,10 Q20,8 10,10 L10,13 L3,13 Z" fill="#e8373a"/><path d="M5,13 L10,13 L10,14 L5,14 Z" fill="#c9c9c9"/><path d="M30,13 L35,13 L35,14 L30,14 Z" fill="#c9c9c9"/><rect x="13" y="11" width="3" height="5" fill="#c5282b"/><rect x="24" y="11" width="3" height="5" fill="#c5282b"/><path d="M12,16 L28,16 L30,20 L10,20 Z" fill="#f39a2c"/><path d="M10,20 L30,20 L36,33 L4,33 Z" fill="#e8373a"/><rect x="4" y="33" width="32" height="3.5" fill="#c5282b"/></g>
<circle cx="954.2" cy="453.3" r="21.5" fill="#fff"/>
<circle cx="954.2" cy="453.3" r="16.8" fill="none" stroke="#3f6580" stroke-width="1.5" stroke-dasharray="1.4 1.9"/>
<polygon points="959.56,440.37 967.13,447.94 967.13,458.66 959.56,466.23 948.84,466.23 941.27,458.66 941.27,447.94 948.84,440.37" fill="#4aa84f"/>
<circle cx="954.2" cy="453.3" r="10.3" fill="#fff"/>
<g transform="translate(947.70,446.80) scale(0.3250)"><rect x="9" y="3" width="22" height="3" fill="#e33a3a"/><rect x="9" y="34" width="22" height="3" fill="#e33a3a"/><path d="M11,6 L29,6 L21,20 L29,34 L11,34 L19,20 Z" fill="#d5d9de"/><path d="M15,12 L25,12 L20.5,20 L19.5,20 Z" fill="#f7d020"/><path d="M20,22 L27,34 L13,34 Z" fill="#f7d020"/></g>
<circle cx="929.4" cy="490.5" r="21.5" fill="#fff"/>
<circle cx="929.4" cy="490.5" r="16.8" fill="none" stroke="#3f6580" stroke-width="1.5" stroke-dasharray="1.4 1.9"/>
<polygon points="934.76,477.57 942.33,485.14 942.33,495.86 934.76,503.43 924.04,503.43 916.47,495.86 916.47,485.14 924.04,477.57" fill="#7cb851"/>
<circle cx="929.4" cy="490.5" r="10.3" fill="#fff"/>
<g transform="translate(922.90,484.00) scale(0.3250)"><path d="M3,17 L20,4 L37,17 L37,36 L3,36 Z" fill="#d9302b"/><path d="M3,17 L20,28 L37,17 L37,36 L3,36 Z" fill="#f0533a"/><path d="M3,36 L20,24 L37,36 Z" fill="#e8453a"/></g>
<circle cx="954.2" cy="527.6" r="21.5" fill="#fff"/>
<circle cx="954.2" cy="527.6" r="16.8" fill="none" stroke="#3f6580" stroke-width="1.5" stroke-dasharray="1.4 1.9"/>
<polygon points="959.56,514.67 967.13,522.24 967.13,532.96 959.56,540.53 948.84,540.53 941.27,532.96 941.27,522.24 948.84,514.67" fill="#a9b845"/>
<circle cx="954.2" cy="527.6" r="10.3" fill="#fff"/>
<g transform="translate(947.70,521.10) scale(0.3250)"><path d="M20,2 C28,2 33,8 33,15 C33,21 29,25 27,30 L13,30 C11,25 7,21 7,15 C7,8 12,2 20,2 Z" fill="#f7d008"/><circle cx="13.5" cy="10" r="2" fill="#fff" fill-opacity="0.8"/><path d="M13,30 L27,30 L26,38 L14,38 Z" fill="#4a4a4a"/></g>
<circle cx="985.5" cy="565.5" r="21.5" fill="#fff"/>
<circle cx="985.5" cy="565.5" r="16.8" fill="none" stroke="#3f6580" stroke-width="1.5" stroke-dasharray="1.4 1.9"/>
<polygon points="990.86,552.57 998.43,560.14 998.43,570.86 990.86,578.43 980.14,578.43 972.57,570.86 972.57,560.14 980.14,552.57" fill="#f5c242"/>
<circle cx="985.5" cy="565.5" r="10.3" fill="#fff"/>
<g transform="translate(979.00,559.00) scale(0.3250)"><path d="M13,26 L4,35" stroke="#d63030" stroke-width="4" stroke-linecap="round"/><circle cx="23" cy="16" r="13" fill="#1e4f6e"/><circle cx="23" cy="16" r="10" fill="#2ab3e6"/><path d="M16,14 Q23,8 30,14" stroke="#8fdaf5" stroke-width="2" fill="none"/></g>
<circle cx="1058.6" cy="415.4" r="21.5" fill="#fff"/>
<circle cx="1058.6" cy="415.4" r="16.8" fill="none" stroke="#3f6580" stroke-width="1.5" stroke-dasharray="1.4 1.9"/>
<polygon points="1063.96,402.47 1071.53,410.04 1071.53,420.76 1063.96,428.33 1053.24,428.33 1045.67,420.76 1045.67,410.04 1053.24,402.47" fill="#f7a33a"/>
<circle cx="1058.6" cy="415.4" r="10.3" fill="#fff"/>
<g transform="translate(1052.10,408.90) scale(0.3250)"><rect x="8" y="6" width="24" height="7" fill="#3a9a4a"/><rect x="6" y="12" width="28" height="20" rx="1.5" fill="#e03a30"/><rect x="11" y="19" width="18" height="6" fill="#fff"/><rect x="4" y="31" width="32" height="3" fill="#b02a25"/></g>
<circle cx="1091.4" cy="453.3" r="21.5" fill="#fff"/>
<circle cx="1091.4" cy="453.3" r="16.8" fill="none" stroke="#3f6580" stroke-width="1.5" stroke-dasharray="1.4 1.9"/>
<polygon points="1096.76,440.37 1104.33,447.94 1104.33,458.66 1096.76,466.23 1086.04,466.23 1078.47,458.66 1078.47,447.94 1086.04,440.37" fill="#f78a33"/>
<circle cx="1091.4" cy="453.3" r="10.3" fill="#fff"/>
<g transform="translate(1084.90,446.80) scale(0.3250)"><rect x="4" y="9" width="26" height="19" fill="#2f9a48"/><rect x="7" y="12" width="20" height="3" fill="#5cc070"/><ellipse cx="29" cy="28" rx="8" ry="5" fill="#f5c623"/><ellipse cx="29" cy="26" rx="8" ry="5" fill="#f9d84a"/></g>
<circle cx="1114" cy="490.5" r="21.5" fill="#fff"/>
<circle cx="1114" cy="490.5" r="16.8" fill="none" stroke="#3f6580" stroke-width="1.5" stroke-dasharray="1.4 1.9"/>
<polygon points="1119.36,477.57 1126.93,485.14 1126.93,495.86 1119.36,503.43 1108.64,503.43 1101.07,495.86 1101.07,485.14 1108.64,477.57" fill="#ec6a45"/>
<circle cx="1114" cy="490.5" r="10.3" fill="#fff"/>
<g transform="translate(1107.50,484.00) scale(0.3250)"><path d="M4,22 L18,8 L36,24 L22,36 Z" fill="#f08a7a"/><path d="M4,20 L16,8 L32,20 L20,32 Z" fill="#4a9a40"/><path d="M8,19 L16,11 L27,20 L19,28 Z" fill="#8ac870"/></g>
<circle cx="1091.4" cy="527.6" r="21.5" fill="#fff"/>
<circle cx="1091.4" cy="527.6" r="16.8" fill="none" stroke="#3f6580" stroke-width="1.5" stroke-dasharray="1.4 1.9"/>
<polygon points="1096.76,514.67 1104.33,522.24 1104.33,532.96 1096.76,540.53 1086.04,540.53 1078.47,532.96 1078.47,522.24 1086.04,514.67" fill="#f17f60"/>
<circle cx="1091.4" cy="527.6" r="10.3" fill="#fff"/>
<g transform="translate(1084.90,521.10) scale(0.3250)"><rect x="15" y="2" width="10" height="4" fill="#e8373a"/><rect x="18" y="5" width="4" height="3" fill="#e8373a"/><path d="M5,10 L9,6 L12,9 L8,13 Z" fill="#333"/><path d="M35,10 L31,6 L28,9 L32,13 Z" fill="#333"/><circle cx="10" cy="35.5" r="2.3" fill="#3c8fc0"/><circle cx="30" cy="35.5" r="2.3" fill="#3c8fc0"/><circle cx="20" cy="22" r="14" fill="#e8373a"/><circle cx="20" cy="22" r="10" fill="#8fd0ec"/><path d="M16,15 L20,22 L26,22" stroke="#1e2a3a" stroke-width="1.6" fill="none"/></g>
<circle cx="1058.6" cy="565.5" r="21.5" fill="#fff"/>
<circle cx="1058.6" cy="565.5" r="16.8" fill="none" stroke="#3f6580" stroke-width="1.5" stroke-dasharray="1.4 1.9"/>
<polygon points="1063.96,552.57 1071.53,560.14 1071.53,570.86 1063.96,578.43 1053.24,578.43 1045.67,570.86 1045.67,560.14 1053.24,552.57" fill="#ee6768"/>
<circle cx="1058.6" cy="565.5" r="10.3" fill="#fff"/>
<g transform="translate(1052.10,559.00) scale(0.3250)"><rect x="4" y="10" width="32" height="22" fill="#2aa5e3"/><rect x="4" y="10" width="32" height="3" fill="#53b8ea"/><rect x="9" y="6" width="2.6" height="7" rx="1.2" fill="#f5d20f"/><rect x="15" y="6" width="2.6" height="7" rx="1.2" fill="#f5d20f"/><rect x="21" y="6" width="2.6" height="7" rx="1.2" fill="#f5d20f"/><rect x="27" y="6" width="2.6" height="7" rx="1.2" fill="#f5d20f"/></g>
<polygon points="1037.52,454.01 1058.89,475.38 1058.89,505.62 1037.52,526.99 1007.28,526.99 985.91,505.62 985.91,475.38 1007.28,454.01" fill="#136b70"/>
<polygon points="1035.11,459.83 1053.07,477.79 1053.07,503.21 1035.11,521.17 1009.69,521.17 991.73,503.21 991.73,477.79 1009.69,459.83" fill="#fff"/>
<path d="M1006,481 Q1012,470 1024,478" stroke="#9ab8d8" stroke-width="0.8" fill="none"/>
<rect x="1003" y="486" width="19.5" height="15" rx="1.5" fill="#8b4a2b"/><rect x="1017" y="490.5" width="6" height="6" fill="#c0703a"/><circle cx="1020" cy="493.5" r="1.5" fill="#f0c050"/>
<circle cx="1011" cy="476" r="3.6" fill="#f5c630"/><circle cx="1019.5" cy="473" r="5" fill="#f5c630"/><circle cx="1027.5" cy="479" r="3.3" fill="#f5c630"/><circle cx="1013" cy="482.5" r="2.6" fill="#f5c630"/>
<rect x="1033" y="482" width="11" height="8" fill="#c5dff0" transform="rotate(20 1038 486)"/>
<rect x="1024" y="494" width="11" height="13" fill="#8cc87a" transform="rotate(-35 1029 500)"/><circle cx="1029" cy="500" r="2.2" fill="#5a9a50"/>
<text x="952.00" y="411.10" font-size="6.90" fill="#fff" font-weight="bold" text-anchor="end" textLength="31.00" lengthAdjust="spacingAndGlyphs" >Your Title</text>
<text x="952.00" y="417.70" font-size="5.00" fill="#fff" text-anchor="end" textLength="78.86" lengthAdjust="spacingAndGlyphs" fill-opacity="0.8" >Nam pretium turpis et arcu. Duis</text>
<text x="952.00" y="424.10" font-size="5.00" fill="#fff" text-anchor="end" textLength="60.22" lengthAdjust="spacingAndGlyphs" fill-opacity="0.8" >arcu tortor, suscipit eget.</text>
<text x="921.00" y="449.00" font-size="6.90" fill="#fff" font-weight="bold" text-anchor="end" textLength="31.00" lengthAdjust="spacingAndGlyphs" >Your Title</text>
<text x="921.00" y="455.60" font-size="5.00" fill="#fff" text-anchor="end" textLength="52.57" lengthAdjust="spacingAndGlyphs" fill-opacity="0.8" >Nam pretium turpis et</text>
<text x="921.00" y="462.00" font-size="5.00" fill="#fff" text-anchor="end" textLength="51.35" lengthAdjust="spacingAndGlyphs" fill-opacity="0.8" >arcu. Duis arcu tortor</text>
<text x="897.00" y="486.10" font-size="6.90" fill="#fff" font-weight="bold" text-anchor="end" textLength="31.00" lengthAdjust="spacingAndGlyphs" >Your Title</text>
<text x="897.00" y="492.70" font-size="5.00" fill="#fff" text-anchor="end" textLength="31.48" lengthAdjust="spacingAndGlyphs" fill-opacity="0.8" >Nam pretium</text>
<text x="897.00" y="499.10" font-size="5.00" fill="#fff" text-anchor="end" textLength="33.32" lengthAdjust="spacingAndGlyphs" fill-opacity="0.8" >turpis et arcu.</text>
<text x="921.00" y="524.00" font-size="6.90" fill="#fff" font-weight="bold" text-anchor="end" textLength="31.00" lengthAdjust="spacingAndGlyphs" >Your Title</text>
<text x="921.00" y="530.60" font-size="5.00" fill="#fff" text-anchor="end" textLength="52.57" lengthAdjust="spacingAndGlyphs" fill-opacity="0.8" >Nam pretium turpis et</text>
<text x="921.00" y="537.00" font-size="5.00" fill="#fff" text-anchor="end" textLength="51.35" lengthAdjust="spacingAndGlyphs" fill-opacity="0.8" >arcu. Duis arcu tortor</text>
<text x="952.00" y="561.20" font-size="6.90" fill="#fff" font-weight="bold" text-anchor="end" textLength="31.00" lengthAdjust="spacingAndGlyphs" >Your Title</text>
<text x="952.00" y="567.80" font-size="5.00" fill="#fff" text-anchor="end" textLength="78.86" lengthAdjust="spacingAndGlyphs" fill-opacity="0.8" >Nam pretium turpis et arcu. Duis</text>
<text x="952.00" y="574.20" font-size="5.00" fill="#fff" text-anchor="end" textLength="60.22" lengthAdjust="spacingAndGlyphs" fill-opacity="0.8" >arcu tortor, suscipit eget.</text>
<text x="1092.00" y="411.10" font-size="6.90" fill="#fff" font-weight="bold" textLength="31.00" lengthAdjust="spacingAndGlyphs" >Your Title</text>
<text x="1092.00" y="417.70" font-size="5.00" fill="#fff" textLength="78.86" lengthAdjust="spacingAndGlyphs" fill-opacity="0.8" >Nam pretium turpis et arcu. Duis</text>
<text x="1092.00" y="424.10" font-size="5.00" fill="#fff" textLength="60.22" lengthAdjust="spacingAndGlyphs" fill-opacity="0.8" >arcu tortor, suscipit eget.</text>
<text x="1125.00" y="449.00" font-size="6.90" fill="#fff" font-weight="bold" textLength="31.00" lengthAdjust="spacingAndGlyphs" >Your Title</text>
<text x="1125.00" y="455.60" font-size="5.00" fill="#fff" textLength="52.57" lengthAdjust="spacingAndGlyphs" fill-opacity="0.8" >Nam pretium turpis et</text>
<text x="1125.00" y="462.00" font-size="5.00" fill="#fff" textLength="51.35" lengthAdjust="spacingAndGlyphs" fill-opacity="0.8" >arcu. Duis arcu tortor</text>
<text x="1148.00" y="486.10" font-size="6.90" fill="#fff" font-weight="bold" textLength="31.00" lengthAdjust="spacingAndGlyphs" >Your Title</text>
<text x="1148.00" y="492.70" font-size="5.00" fill="#fff" textLength="31.48" lengthAdjust="spacingAndGlyphs" fill-opacity="0.8" >Nam pretium</text>
<text x="1148.00" y="499.10" font-size="5.00" fill="#fff" textLength="33.32" lengthAdjust="spacingAndGlyphs" fill-opacity="0.8" >turpis et arcu.</text>
<text x="1125.00" y="524.00" font-size="6.90" fill="#fff" font-weight="bold" textLength="31.00" lengthAdjust="spacingAndGlyphs" >Your Title</text>
<text x="1125.00" y="530.60" font-size="5.00" fill="#fff" textLength="52.57" lengthAdjust="spacingAndGlyphs" fill-opacity="0.8" >Nam pretium turpis et</text>
<text x="1125.00" y="537.00" font-size="5.00" fill="#fff" textLength="51.35" lengthAdjust="spacingAndGlyphs" fill-opacity="0.8" >arcu. Duis arcu tortor</text>
<text x="1090.00" y="561.20" font-size="6.90" fill="#fff" font-weight="bold" textLength="31.00" lengthAdjust="spacingAndGlyphs" >Your Title</text>
<text x="1090.00" y="567.80" font-size="5.00" fill="#fff" textLength="78.86" lengthAdjust="spacingAndGlyphs" fill-opacity="0.8" >Nam pretium turpis et arcu. Duis</text>
<text x="1090.00" y="574.20" font-size="5.00" fill="#fff" textLength="60.22" lengthAdjust="spacingAndGlyphs" fill-opacity="0.8" >arcu tortor, suscipit eget.</text>
<text x="1022.00" y="605.30" font-size="7.40" fill="#555" text-anchor="middle" textLength="253.00" lengthAdjust="spacingAndGlyphs" >Lorem ipsum dolor sit amet, consectetur adipiscing elit, sed do eiusmod tempor</text><text x="1022.00" y="613.80" font-size="7.40" fill="#555" text-anchor="middle" textLength="137.95" lengthAdjust="spacingAndGlyphs" >incididunt ut labore et dolore magna aliqua.</text>
<text x="45.80" y="687.69" font-size="6.38" fill="#111" font-weight="bold" textLength="66.23" lengthAdjust="spacingAndGlyphs" >ADAPTIVE BUSINESS</text>
<text x="45.56" y="696.58" font-size="8.47" fill="#111" font-weight="bold" textLength="66.72" lengthAdjust="spacingAndGlyphs" >INFOGRAPHICS</text>
<path d="M125.28,689.78 L118.11,685.64 A8.279,8.279 0 0 1 132.45,685.64 Z" fill="#3f7fcf"/>
<path d="M125.28,689.78 L132.45,685.64 A8.279,8.279 0 0 1 125.28,698.06 Z" fill="#ef4e4e"/>
<path d="M125.28,689.78 L125.28,698.06 A8.279,8.279 0 0 1 118.11,685.64 Z" fill="#f9c623"/>
<text x="379.00" y="692.02" font-size="14.71" fill="#6b6b6b" text-anchor="end" textLength="118.83" lengthAdjust="spacingAndGlyphs" >FLAT SMART ART</text>
<rect x="90.7" y="751.2" width="68" height="28" rx="2.5" fill="#1b8a78"/>
<text x="100.40" y="759.80" font-size="5.60" fill="#fff" font-weight="bold" textLength="33.00" lengthAdjust="spacingAndGlyphs" >YOUR TITLE</text>
<text x="100.40" y="767.40" font-size="5.00" fill="#fff" textLength="42.00" lengthAdjust="spacingAndGlyphs" fill-opacity="0.85" >Lorem ipsum dolor</text>
<text x="100.40" y="774.40" font-size="5.00" fill="#fff" textLength="50.00" lengthAdjust="spacingAndGlyphs" fill-opacity="0.85" >sit amet consectetur.</text>
<text x="166.60" y="768.40" font-size="10.20" fill="#555" font-weight="bold" textLength="20.70" lengthAdjust="spacingAndGlyphs" >50%</text>
<g transform="translate(60.00,755.70) scale(0.4750)"><rect x="15" y="2" width="10" height="4" fill="#e8373a"/><rect x="18" y="5" width="4" height="3" fill="#e8373a"/><path d="M5,10 L9,6 L12,9 L8,13 Z" fill="#333"/><path d="M35,10 L31,6 L28,9 L32,13 Z" fill="#333"/><circle cx="10" cy="35.5" r="2.3" fill="#3c8fc0"/><circle cx="30" cy="35.5" r="2.3" fill="#3c8fc0"/><circle cx="20" cy="22" r="14" fill="#e8373a"/><circle cx="20" cy="22" r="10" fill="#8fd0ec"/><path d="M16,15 L20,22 L26,22" stroke="#1e2a3a" stroke-width="1.6" fill="none"/></g>
<rect x="90.7" y="787.7" width="68" height="28" rx="2.5" fill="#3fa34d"/>
<text x="100.40" y="796.30" font-size="5.60" fill="#fff" font-weight="bold" textLength="33.00" lengthAdjust="spacingAndGlyphs" >YOUR TITLE</text>
<text x="100.40" y="803.90" font-size="5.00" fill="#fff" textLength="42.00" lengthAdjust="spacingAndGlyphs" fill-opacity="0.85" >Lorem ipsum dolor</text>
<text x="100.40" y="810.90" font-size="5.00" fill="#fff" textLength="50.00" lengthAdjust="spacingAndGlyphs" fill-opacity="0.85" >sit amet consectetur.</text>
<text x="166.60" y="804.90" font-size="10.20" fill="#555" font-weight="bold" textLength="20.70" lengthAdjust="spacingAndGlyphs" >70%</text>
<g transform="translate(60.00,792.20) scale(0.4750)"><path d="M13,26 L4,35" stroke="#d63030" stroke-width="4" stroke-linecap="round"/><circle cx="23" cy="16" r="13" fill="#1e4f6e"/><circle cx="23" cy="16" r="10" fill="#2ab3e6"/><path d="M16,14 Q23,8 30,14" stroke="#8fdaf5" stroke-width="2" fill="none"/></g>
<rect x="90.7" y="824.2" width="68" height="28" rx="2.5" fill="#a9b53a"/>
<text x="100.40" y="832.80" font-size="5.60" fill="#fff" font-weight="bold" textLength="33.00" lengthAdjust="spacingAndGlyphs" >YOUR TITLE</text>
<text x="100.40" y="840.40" font-size="5.00" fill="#fff" textLength="42.00" lengthAdjust="spacingAndGlyphs" fill-opacity="0.85" >Lorem ipsum dolor</text>
<text x="100.40" y="847.40" font-size="5.00" fill="#fff" textLength="50.00" lengthAdjust="spacingAndGlyphs" fill-opacity="0.85" >sit amet consectetur.</text>
<text x="166.60" y="841.40" font-size="10.20" fill="#555" font-weight="bold" textLength="20.70" lengthAdjust="spacingAndGlyphs" >40%</text>
<g transform="translate(60.00,828.70) scale(0.4750)"><path d="M20,2 C28,2 33,8 33,15 C33,21 29,25 27,30 L13,30 C11,25 7,21 7,15 C7,8 12,2 20,2 Z" fill="#f7d008"/><circle cx="13.5" cy="10" r="2" fill="#fff" fill-opacity="0.8"/><path d="M13,30 L27,30 L26,38 L14,38 Z" fill="#4a4a4a"/></g>
<rect x="90.7" y="860.9" width="68" height="28" rx="2.5" fill="#f7a21b"/>
<text x="100.40" y="869.50" font-size="5.60" fill="#fff" font-weight="bold" textLength="33.00" lengthAdjust="spacingAndGlyphs" >YOUR TITLE</text>
<text x="100.40" y="877.10" font-size="5.00" fill="#fff" textLength="42.00" lengthAdjust="spacingAndGlyphs" fill-opacity="0.85" >Lorem ipsum dolor</text>
<text x="100.40" y="884.10" font-size="5.00" fill="#fff" textLength="50.00" lengthAdjust="spacingAndGlyphs" fill-opacity="0.85" >sit amet consectetur.</text>
<text x="166.60" y="878.10" font-size="10.20" fill="#555" font-weight="bold" textLength="20.70" lengthAdjust="spacingAndGlyphs" >80%</text>
<g transform="translate(60.00,865.40) scale(0.4750)"><path d="M3,17 L20,4 L37,17 L37,36 L3,36 Z" fill="#d9302b"/><path d="M3,17 L20,28 L37,17 L37,36 L3,36 Z" fill="#f0533a"/><path d="M3,36 L20,24 L37,36 Z" fill="#e8453a"/></g>
<path d="M288.30,819.70 L227.74,819.70 A60.56,60.56 0 0 1 288.30,759.14 Z" fill="#f7a21b"/>
<path d="M288.30,819.70 L288.30,781.85 A37.85,37.85 0 0 1 326.15,819.70 Z" fill="#15806c"/>
<path d="M288.30,819.70 L341.29,819.70 A52.99,52.99 0 0 1 288.30,872.69 Z" fill="#3fa34d"/>
<path d="M288.30,819.70 L288.30,849.98 A30.28,30.28 0 0 1 258.02,819.70 Z" fill="#a9b53a"/>
<circle cx="288.3" cy="819.7" r="7.57" fill="none" stroke="#b9b9b9" stroke-width="0.9"/>
<circle cx="288.3" cy="819.7" r="15.14" fill="none" stroke="#b9b9b9" stroke-width="0.9"/>
<circle cx="288.3" cy="819.7" r="22.71" fill="none" stroke="#b9b9b9" stroke-width="0.9"/>
<circle cx="288.3" cy="819.7" r="30.28" fill="none" stroke="#b9b9b9" stroke-width="0.9"/>
<circle cx="288.3" cy="819.7" r="37.85" fill="none" stroke="#b9b9b9" stroke-width="0.9"/>
<circle cx="288.3" cy="819.7" r="45.42" fill="none" stroke="#b9b9b9" stroke-width="0.9"/>
<circle cx="288.3" cy="819.7" r="52.99" fill="none" stroke="#b9b9b9" stroke-width="0.9"/>
<circle cx="288.3" cy="819.7" r="60.56" fill="none" stroke="#b9b9b9" stroke-width="0.9"/>
<circle cx="288.3" cy="819.7" r="68.13" fill="none" stroke="#b9b9b9" stroke-width="0.9"/>
<circle cx="288.3" cy="819.7" r="75.70" fill="none" stroke="#b9b9b9" stroke-width="0.9"/>
<path d="M280.73,819.70 A7.57,7.57 0 0 1 288.30,812.13" fill="none" stroke="#fff" stroke-opacity="0.55" stroke-width="0.9"/>
<path d="M273.16,819.70 A15.14,15.14 0 0 1 288.30,804.56" fill="none" stroke="#fff" stroke-opacity="0.55" stroke-width="0.9"/>
<path d="M265.59,819.70 A22.71,22.71 0 0 1 288.30,796.99" fill="none" stroke="#fff" stroke-opacity="0.55" stroke-width="0.9"/>
<path d="M258.02,819.70 A30.28,30.28 0 0 1 288.30,789.42" fill="none" stroke="#fff" stroke-opacity="0.55" stroke-width="0.9"/>
<path d="M250.45,819.70 A37.85,37.85 0 0 1 288.30,781.85" fill="none" stroke="#fff" stroke-opacity="0.55" stroke-width="0.9"/>
<path d="M242.88,819.70 A45.42,45.42 0 0 1 288.30,774.28" fill="none" stroke="#fff" stroke-opacity="0.55" stroke-width="0.9"/>
<path d="M235.31,819.70 A52.99,52.99 0 0 1 288.30,766.71" fill="none" stroke="#fff" stroke-opacity="0.55" stroke-width="0.9"/>
<path d="M288.30,812.13 A7.57,7.57 0 0 1 295.87,819.70" fill="none" stroke="#fff" stroke-opacity="0.55" stroke-width="0.9"/>
<path d="M288.30,804.56 A15.14,15.14 0 0 1 303.44,819.70" fill="none" stroke="#fff" stroke-opacity="0.55" stroke-width="0.9"/>
<path d="M288.30,796.99 A22.71,22.71 0 0 1 311.01,819.70" fill="none" stroke="#fff" stroke-opacity="0.55" stroke-width="0.9"/>
<path d="M288.30,789.42 A30.28,30.28 0 0 1 318.58,819.70" fill="none" stroke="#fff" stroke-opacity="0.55" stroke-width="0.9"/>
<path d="M295.87,819.70 A7.57,7.57 0 0 1 288.30,827.27" fill="none" stroke="#fff" stroke-opacity="0.55" stroke-width="0.9"/>
<path d="M303.44,819.70 A15.14,15.14 0 0 1 288.30,834.84" fill="none" stroke="#fff" stroke-opacity="0.55" stroke-width="0.9"/>
<path d="M311.01,819.70 A22.71,22.71 0 0 1 288.30,842.41" fill="none" stroke="#fff" stroke-opacity="0.55" stroke-width="0.9"/>
<path d="M318.58,819.70 A30.28,30.28 0 0 1 288.30,849.98" fill="none" stroke="#fff" stroke-opacity="0.55" stroke-width="0.9"/>
<path d="M326.15,819.70 A37.85,37.85 0 0 1 288.30,857.55" fill="none" stroke="#fff" stroke-opacity="0.55" stroke-width="0.9"/>
<path d="M333.72,819.70 A45.42,45.42 0 0 1 288.30,865.12" fill="none" stroke="#fff" stroke-opacity="0.55" stroke-width="0.9"/>
<path d="M288.30,827.27 A7.57,7.57 0 0 1 280.73,819.70" fill="none" stroke="#fff" stroke-opacity="0.55" stroke-width="0.9"/>
<path d="M288.30,834.84 A15.14,15.14 0 0 1 273.16,819.70" fill="none" stroke="#fff" stroke-opacity="0.55" stroke-width="0.9"/>
<path d="M288.30,842.41 A22.71,22.71 0 0 1 265.59,819.70" fill="none" stroke="#fff" stroke-opacity="0.55" stroke-width="0.9"/>
<text x="222.20" y="739.50" font-size="5.70" fill="#555" font-weight="bold" text-anchor="middle" textLength="17.00" lengthAdjust="spacingAndGlyphs" >YOUR</text>
<text x="222.20" y="746.00" font-size="5.70" fill="#555" font-weight="bold" text-anchor="middle" textLength="17.00" lengthAdjust="spacingAndGlyphs" >TITLE</text>
<text x="347.40" y="739.50" font-size="5.70" fill="#555" font-weight="bold" text-anchor="middle" textLength="17.00" lengthAdjust="spacingAndGlyphs" >YOUR</text>
<text x="347.40" y="746.00" font-size="5.70" fill="#555" font-weight="bold" text-anchor="middle" textLength="17.00" lengthAdjust="spacingAndGlyphs" >TITLE</text>
<text x="222.20" y="895.80" font-size="5.70" fill="#555" font-weight="bold" text-anchor="middle" textLength="17.00" lengthAdjust="spacingAndGlyphs" >YOUR</text>
<text x="222.20" y="902.30" font-size="5.70" fill="#555" font-weight="bold" text-anchor="middle" textLength="17.00" lengthAdjust="spacingAndGlyphs" >TITLE</text>
<text x="347.40" y="895.80" font-size="5.70" fill="#555" font-weight="bold" text-anchor="middle" textLength="17.00" lengthAdjust="spacingAndGlyphs" >YOUR</text>
<text x="347.40" y="902.30" font-size="5.70" fill="#555" font-weight="bold" text-anchor="middle" textLength="17.00" lengthAdjust="spacingAndGlyphs" >TITLE</text>
<text x="212.00" y="932.00" font-size="7.40" fill="#555" text-anchor="middle" textLength="252.70" lengthAdjust="spacingAndGlyphs" >Lorem ipsum dolor sit amet, consectetur adipiscing elit, sed do eiusmod tempor</text><text x="212.00" y="941.50" font-size="7.40" fill="#555" text-anchor="middle" textLength="137.79" lengthAdjust="spacingAndGlyphs" >incididunt ut labore et dolore magna aliqua.</text>
<text x="46.20" y="1005.39" font-size="6.38" fill="#111" font-weight="bold" textLength="66.23" lengthAdjust="spacingAndGlyphs" >ADAPTIVE BUSINESS</text>
<text x="45.96" y="1014.28" font-size="8.47" fill="#111" font-weight="bold" textLength="66.72" lengthAdjust="spacingAndGlyphs" >INFOGRAPHICS</text>
<path d="M125.68,1007.48 L118.51,1003.34 A8.279,8.279 0 0 1 132.85,1003.34 Z" fill="#1a9a8a"/>
<path d="M125.68,1007.48 L132.85,1003.34 A8.279,8.279 0 0 1 125.68,1015.76 Z" fill="#ef5a30"/>
<path d="M125.68,1007.48 L125.68,1015.76 A8.279,8.279 0 0 1 118.51,1003.34 Z" fill="#f9c623"/>
<text x="378.80" y="1009.82" font-size="14.71" fill="#6b6b6b" text-anchor="end" textLength="118.83" lengthAdjust="spacingAndGlyphs" >FLAT SMART ART</text>
<circle cx="88.9" cy="1084" r="42.1" fill="#88b3b9"/>
<circle cx="335.7" cy="1082.5" r="43" fill="#a8a8a8"/>
<clipPath id="pc2"><circle cx="0" cy="0" r="42.1"/><rect x="-200" y="-200" width="400" height="200"/></clipPath><g transform="translate(88.9,1084)"><g clip-path="url(#pc2)"><path d="M-4.5,-20 L4.5,-20 L5,-9 L-5,-9 Z" fill="#f0c4a4"/><path d="M-23,-10 C-14,-13 -6,-13 0,-12 C6,-13 14,-13 23,-10 L17,6 C13,14 11,20 11,24 L15,45 L-15,45 L-11,24 C-11,20 -13,14 -17,6 Z" fill="#173d5e"/><path d="M-23,-10 C-28,-6 -31,4 -30,13 C-27,22 -23,30 -18,36 L-14,34 C-18,26 -21,18 -22,12 C-21,8 -19,5 -17,6 Z" fill="#123351"/><path d="M23,-10 C28,-6 31,4 30,13 C27,22 23,30 18,36 L14,34 C18,26 21,18 22,12 C21,8 19,5 17,6 Z" fill="#123351"/><path d="M-5,-11 L5,-11 L2,4 L-1,13 L-4,4 Z" fill="#ffffff"/><path d="M-7,-12 L-1,13 L-12,-10 Z" fill="#22507a"/><path d="M6,-12 L-1,13 L11,-10 Z" fill="#22507a"/><circle cx="0" cy="22" r="0.9" fill="#2a5a80"/><circle cx="0" cy="28" r="0.9" fill="#2a5a80"/><ellipse cx="-16" cy="35" rx="3" ry="1.8" fill="#f8f0e8"/><ellipse cx="16" cy="35" rx="3" ry="1.8" fill="#f8f0e8"/><path d="M-13,-26 C-15,-42 -8,-51 1,-51 C10,-51 15,-42 13,-26 L12,-16 L10,-26 Z" fill="#9a4f26"/><ellipse cx="0.5" cy="-29" rx="10" ry="11.5" fill="#f4cbb0"/><path d="M-11,-30 C-12,-46 6,-52 12,-38 C12,-34 11,-32 10,-30 C6,-38 -2,-40 -11,-30 Z" fill="#9a4f26"/><path d="M-6,-30.5 L-2,-31" stroke="#4a2a1a" stroke-width="1"/><path d="M3,-31 L7,-30.5" stroke="#4a2a1a" stroke-width="1"/><path d="M-2,-22 Q0.5,-21 3,-22" stroke="#d07060" stroke-width="1" fill="none"/></g></g>
<clipPath id="pc3"><circle cx="0" cy="0" r="43"/><rect x="-200" y="-200" width="400" height="200"/></clipPath><g transform="translate(335.7,1082.5)"><g clip-path="url(#pc3)"><path d="M-6.5,-22 L6.5,-22 L6.5,-12 L-6.5,-12 Z" fill="#e8b48c"/><path d="M-25,-9 C-16,-12 -8,-12 0,-10 C8,-12 16,-12 25,-9 L20,6 C18,16 16,24 16,30 L18,45 L-18,45 L-16,30 C-16,24 -18,16 -20,6 Z" fill="#2e2e2e"/><path d="M-25,-9 C-32,-5 -34,4 -34,14 C-34,22 -30,30 -22,36 L-16,34 C-21,28 -25,20 -25,13 C-25,7 -23,2 -20,6 Z" fill="#262626"/><path d="M25,-9 C32,-5 34,4 34,14 C34,22 30,30 22,36 L16,34 C21,28 25,20 25,13 C25,7 23,2 20,6 Z" fill="#262626"/><path d="M-9,-13.5 L9,-13.5 L10,-10 L0,15 L-10,-10 Z" fill="#f4f8fa"/><path d="M-2,-9 L2,-9 L3,8 L0,13 L-3,8 Z" fill="#4a9aac"/><path d="M-11,-10 L0,16 L-6,-4 Z" fill="#444"/><path d="M11,-10 L0,16 L6,-4 Z" fill="#444"/><ellipse cx="-17" cy="35" rx="3" ry="2" fill="#e8b48c"/><ellipse cx="17" cy="35" rx="3" ry="2" fill="#e8b48c"/><path d="M-11,-42 C-11,-48 11,-48 11,-42 L11,-28 C11,-20 6,-16.5 0,-16.5 C-6,-16.5 -11,-20 -11,-28 Z" fill="#f2c09a"/><path d="M-12,-34 C-13,-46 -10,-50 -3,-50.5 C6,-51 12,-49 12,-42 L11.5,-34 L10,-39 C6,-42 -2,-41 -6,-44 C-8,-41 -10,-39 -11,-36 Z" fill="#7a3e1e"/><path d="M-7,-35 L-2,-35.5 M2.5,-35.5 L7.5,-35" stroke="#5a3a20" stroke-width="0.9"/><ellipse cx="-4.5" cy="-32" rx="1.3" ry="1" fill="#3a2a20"/><ellipse cx="4.5" cy="-32" rx="1.3" ry="1" fill="#3a2a20"/><path d="M-2,-23.5 L2,-23.5" stroke="#b06a50" stroke-width="0.8"/></g></g>
<text x="51.40" y="1139.00" font-size="4.90" fill="#555" textLength="75.00" lengthAdjust="spacingAndGlyphs" >Lorem ipsum dolor sit amet, consectetur</text>
<text x="51.40" y="1144.00" font-size="4.90" fill="#555" textLength="71.73" lengthAdjust="spacingAndGlyphs" >adipiscing elit, sed do eiusmod tempor</text>
<text x="51.40" y="1149.00" font-size="4.90" fill="#555" textLength="67.05" lengthAdjust="spacingAndGlyphs" >incididunt ut labore et dolore magna</text>
<text x="51.40" y="1154.00" font-size="4.90" fill="#555" textLength="71.25" lengthAdjust="spacingAndGlyphs" >aliqua. Ut enim ad minim veniam, quis</text>
<text x="51.40" y="1159.00" font-size="4.90" fill="#555" textLength="73.60" lengthAdjust="spacingAndGlyphs" >nostrud exercitation ullamco laboris nisi</text>
<text x="51.40" y="1164.00" font-size="4.90" fill="#555" textLength="69.86" lengthAdjust="spacingAndGlyphs" >ut aliquip ex ea commodo consequat.</text>
<text x="297.90" y="1139.00" font-size="4.90" fill="#555" textLength="75.00" lengthAdjust="spacingAndGlyphs" >Lorem ipsum dolor sit amet, consectetur</text>
<text x="297.90" y="1144.00" font-size="4.90" fill="#555" textLength="71.73" lengthAdjust="spacingAndGlyphs" >adipiscing elit, sed do eiusmod tempor</text>
<text x="297.90" y="1149.00" font-size="4.90" fill="#555" textLength="67.05" lengthAdjust="spacingAndGlyphs" >incididunt ut labore et dolore magna</text>
<text x="297.90" y="1154.00" font-size="4.90" fill="#555" textLength="71.25" lengthAdjust="spacingAndGlyphs" >aliqua. Ut enim ad minim veniam, quis</text>
<text x="297.90" y="1159.00" font-size="4.90" fill="#555" textLength="73.60" lengthAdjust="spacingAndGlyphs" >nostrud exercitation ullamco laboris nisi</text>
<text x="297.90" y="1164.00" font-size="4.90" fill="#555" textLength="69.86" lengthAdjust="spacingAndGlyphs" >ut aliquip ex ea commodo consequat.</text>
<polygon points="197.40,1070.50 274.60,1207.40 120.20,1207.40" fill="#14897a"/>
<polygon points="229.80,1079.40 301.60,1207.40 158.00,1207.40" fill="#5cb560"/>
<polygon points="218.50,1128.80 262.20,1207.40 174.80,1207.40" fill="#3bb6d6"/>
<polygon points="142.40,1165.30 167.15,1207.40 117.65,1207.40" fill="#ee5628"/>
<polygon points="189.40,1181.50 204.80,1207.40 174.00,1207.40" fill="#f17a26"/>
<polygon points="229.00,1178.20 244.80,1207.40 213.20,1207.40" fill="#f89a1c"/>
<polygon points="255.70,1166.00 274.20,1207.40 237.20,1207.40" fill="#a8c43c"/>
<polygon points="284.00,1173.40 304.50,1207.40 263.50,1207.40" fill="#f5b730"/>
<text x="197.00" y="1102.00" font-size="8.60" fill="#fff" font-weight="bold" text-anchor="middle" >97%</text>
<text x="197.00" y="1111.30" font-size="5.60" fill="#fff" font-weight="bold" text-anchor="middle" >Lorem</text>
<text x="197.00" y="1118.02" font-size="5.60" fill="#fff" font-weight="bold" text-anchor="middle" >ipsum</text>
<text x="231.00" y="1106.50" font-size="8.60" fill="#fff" font-weight="bold" text-anchor="middle" >82%</text>
<text x="231.00" y="1115.80" font-size="5.60" fill="#fff" font-weight="bold" text-anchor="middle" >Cum sociis</text>
<text x="219.00" y="1156.00" font-size="8.40" fill="#fff" font-weight="bold" text-anchor="middle" >65%</text>
<text x="219.00" y="1164.52" font-size="5.00" fill="#fff" font-weight="bold" text-anchor="middle" >Aenean</text>
<text x="142.50" y="1186.00" font-size="6.50" fill="#fff" font-weight="bold" text-anchor="middle" >30%</text>
<text x="142.50" y="1191.79" font-size="3.20" fill="#fff" font-weight="bold" text-anchor="middle" >Donec quam</text>
<text x="189.50" y="1193.00" font-size="5.20" fill="#fff" font-weight="bold" text-anchor="middle" >13%</text>
<text x="189.50" y="1198.16" font-size="3.00" fill="#fff" font-weight="bold" text-anchor="middle" >Praesent</text>
<text x="229.00" y="1192.00" font-size="5.20" fill="#fff" font-weight="bold" text-anchor="middle" >15%</text>
<text x="229.00" y="1197.16" font-size="3.00" fill="#fff" font-weight="bold" text-anchor="middle" >Phasellus</text>
<text x="256.00" y="1187.00" font-size="6.50" fill="#fff" font-weight="bold" text-anchor="middle" >30%</text>
<text x="256.00" y="1192.55" font-size="3.00" fill="#fff" font-weight="bold" text-anchor="middle" >Nulla consequat</text>
<text x="284.00" y="1189.00" font-size="5.50" fill="#fff" font-weight="bold" text-anchor="middle" >78%</text>
<text x="284.00" y="1194.25" font-size="3.00" fill="#fff" font-weight="bold" text-anchor="middle" >Etiam rhoncus</text>
<g transform="translate(81.60,1224.50) scale(0.3000)"><rect x="15" y="2" width="10" height="4" fill="#e8373a"/><rect x="18" y="5" width="4" height="3" fill="#e8373a"/><path d="M5,10 L9,6 L12,9 L8,13 Z" fill="#333"/><path d="M35,10 L31,6 L28,9 L32,13 Z" fill="#333"/><circle cx="10" cy="35.5" r="2.3" fill="#3c8fc0"/><circle cx="30" cy="35.5" r="2.3" fill="#3c8fc0"/><circle cx="20" cy="22" r="14" fill="#e8373a"/><circle cx="20" cy="22" r="10" fill="#8fd0ec"/><path d="M16,15 L20,22 L26,22" stroke="#1e2a3a" stroke-width="1.6" fill="none"/></g>
<text x="97.00" y="1231.40" font-size="4.60" fill="#444" textLength="52.80" lengthAdjust="spacingAndGlyphs" >Aenean posuere, tortor sed</text>
<text x="97.00" y="1236.10" font-size="4.60" fill="#444" textLength="28.33" lengthAdjust="spacingAndGlyphs" >cursus feugiat.</text>
<g transform="translate(81.60,1244.50) scale(0.3000)"><rect x="4" y="10" width="32" height="22" fill="#2aa5e3"/><rect x="4" y="10" width="32" height="3" fill="#53b8ea"/><rect x="9" y="6" width="2.6" height="7" rx="1.2" fill="#f5d20f"/><rect x="15" y="6" width="2.6" height="7" rx="1.2" fill="#f5d20f"/><rect x="21" y="6" width="2.6" height="7" rx="1.2" fill="#f5d20f"/><rect x="27" y="6" width="2.6" height="7" rx="1.2" fill="#f5d20f"/></g>
<text x="97.00" y="1251.40" font-size="4.60" fill="#444" textLength="52.80" lengthAdjust="spacingAndGlyphs" >Aenean posuere, tortor sed</text>
<text x="97.00" y="1256.10" font-size="4.60" fill="#444" textLength="28.33" lengthAdjust="spacingAndGlyphs" >cursus feugiat.</text>
<g transform="translate(178.50,1224.50) scale(0.3000)"><path d="M20,2 C28,2 33,8 33,15 C33,21 29,25 27,30 L13,30 C11,25 7,21 7,15 C7,8 12,2 20,2 Z" fill="#f7d008"/><circle cx="13.5" cy="10" r="2" fill="#fff" fill-opacity="0.8"/><path d="M13,30 L27,30 L26,38 L14,38 Z" fill="#4a4a4a"/></g>
<text x="193.90" y="1231.40" font-size="4.60" fill="#444" textLength="52.80" lengthAdjust="spacingAndGlyphs" >Aenean posuere, tortor sed</text>
<text x="193.90" y="1236.10" font-size="4.60" fill="#444" textLength="28.33" lengthAdjust="spacingAndGlyphs" >cursus feugiat.</text>
<g transform="translate(178.50,1244.50) scale(0.3000)"><rect x="9" y="3" width="22" height="3" fill="#e33a3a"/><rect x="9" y="34" width="22" height="3" fill="#e33a3a"/><path d="M11,6 L29,6 L21,20 L29,34 L11,34 L19,20 Z" fill="#d5d9de"/><path d="M15,12 L25,12 L20.5,20 L19.5,20 Z" fill="#f7d020"/><path d="M20,22 L27,34 L13,34 Z" fill="#f7d020"/></g>
<text x="193.90" y="1251.40" font-size="4.60" fill="#444" textLength="52.80" lengthAdjust="spacingAndGlyphs" >Aenean posuere, tortor sed</text>
<text x="193.90" y="1256.10" font-size="4.60" fill="#444" textLength="28.33" lengthAdjust="spacingAndGlyphs" >cursus feugiat.</text>
<g transform="translate(275.30,1224.50) scale(0.3000)"><path d="M3,17 L20,4 L37,17 L37,36 L3,36 Z" fill="#d9302b"/><path d="M3,17 L20,28 L37,17 L37,36 L3,36 Z" fill="#f0533a"/><path d="M3,36 L20,24 L37,36 Z" fill="#e8453a"/></g>
<text x="290.70" y="1231.40" font-size="4.60" fill="#444" textLength="52.80" lengthAdjust="spacingAndGlyphs" >Aenean posuere, tortor sed</text>
<text x="290.70" y="1236.10" font-size="4.60" fill="#444" textLength="28.33" lengthAdjust="spacingAndGlyphs" >cursus feugiat.</text>
<g transform="translate(275.30,1244.50) scale(0.3000)"><path d="M13,26 L4,35" stroke="#d63030" stroke-width="4" stroke-linecap="round"/><circle cx="23" cy="16" r="13" fill="#1e4f6e"/><circle cx="23" cy="16" r="10" fill="#2ab3e6"/><path d="M16,14 Q23,8 30,14" stroke="#8fdaf5" stroke-width="2" fill="none"/></g>
<text x="290.70" y="1251.40" font-size="4.60" fill="#444" textLength="52.80" lengthAdjust="spacingAndGlyphs" >Aenean posuere, tortor sed</text>
<text x="290.70" y="1256.10" font-size="4.60" fill="#444" textLength="28.33" lengthAdjust="spacingAndGlyphs" >cursus feugiat.</text>
<text x="478.10" y="713.81" font-size="13.10" fill="#111" font-weight="bold" textLength="136.00" lengthAdjust="spacingAndGlyphs" >ADAPTIVE BUSINESS</text>
<text x="477.60" y="732.07" font-size="17.40" fill="#111" font-weight="bold" textLength="137.00" lengthAdjust="spacingAndGlyphs" >INFOGRAPHICS</text>
<path d="M641.30,718.10 L626.58,709.60 A17.0,17.0 0 0 1 656.02,709.60 Z" fill="#3f7fcf"/>
<path d="M641.30,718.10 L656.02,709.60 A17.0,17.0 0 0 1 641.30,735.10 Z" fill="#ef4e4e"/>
<path d="M641.30,718.10 L641.30,735.10 A17.0,17.0 0 0 1 626.58,709.60 Z" fill="#f9c623"/>
<text x="1162.70" y="722.78" font-size="30.20" fill="#6b6b6b" text-anchor="end" textLength="244.00" lengthAdjust="spacingAndGlyphs" >FLAT SMART ART</text>
<rect x="522.7" y="784.70" width="463.6" height="2" fill="#d3d3d3"/>
<text x="513.00" y="790.70" font-size="14.20" fill="#d2d2d2" font-weight="bold" text-anchor="end" >100%</text>
<rect x="522.7" y="824.43" width="463.6" height="2" fill="#d3d3d3"/>
<text x="513.00" y="830.43" font-size="14.20" fill="#d2d2d2" font-weight="bold" text-anchor="end" >90%</text>
<rect x="522.7" y="864.16" width="463.6" height="2" fill="#d3d3d3"/>
<text x="513.00" y="870.16" font-size="14.20" fill="#d2d2d2" font-weight="bold" text-anchor="end" >80%</text>
<rect x="522.7" y="903.89" width="463.6" height="2" fill="#d3d3d3"/>
<text x="513.00" y="909.89" font-size="14.20" fill="#d2d2d2" font-weight="bold" text-anchor="end" >70%</text>
<rect x="522.7" y="943.62" width="463.6" height="2" fill="#d3d3d3"/>
<text x="513.00" y="949.62" font-size="14.20" fill="#d2d2d2" font-weight="bold" text-anchor="end" >60%</text>
<rect x="522.7" y="983.35" width="463.6" height="2" fill="#d3d3d3"/>
<text x="513.00" y="989.35" font-size="14.20" fill="#d2d2d2" font-weight="bold" text-anchor="end" >50%</text>
<rect x="522.7" y="1023.08" width="463.6" height="2" fill="#d3d3d3"/>
<text x="513.00" y="1029.08" font-size="14.20" fill="#d2d2d2" font-weight="bold" text-anchor="end" >40%</text>
<rect x="522.7" y="1062.81" width="463.6" height="2" fill="#d3d3d3"/>
<text x="513.00" y="1068.81" font-size="14.20" fill="#d2d2d2" font-weight="bold" text-anchor="end" >30%</text>
<rect x="522.7" y="1102.54" width="463.6" height="2" fill="#d3d3d3"/>
<text x="513.00" y="1108.54" font-size="14.20" fill="#d2d2d2" font-weight="bold" text-anchor="end" >20%</text>
<rect x="522.7" y="1142.27" width="463.6" height="2" fill="#d3d3d3"/>
<text x="513.00" y="1148.27" font-size="14.20" fill="#d2d2d2" font-weight="bold" text-anchor="end" >10%</text>
<rect x="574.7" y="889.5" width="57.6" height="253.80" fill="#0b97a6"/>
<text x="602.00" y="1165.20" font-size="14.20" fill="#d2d2d2" font-weight="bold" text-anchor="middle" >2013</text>
<rect x="654.7" y="937.9" width="57.6" height="205.40" fill="#0e8a7a"/>
<text x="682.00" y="1165.20" font-size="14.20" fill="#d2d2d2" font-weight="bold" text-anchor="middle" >2014</text>
<rect x="734.7" y="829.3" width="57.6" height="314.00" fill="#43a24a"/>
<text x="762.00" y="1165.20" font-size="14.20" fill="#d2d2d2" font-weight="bold" text-anchor="middle" >2015</text>
<rect x="814.7" y="797.8" width="57.6" height="345.50" fill="#c0c935"/>
<text x="842.00" y="1165.20" font-size="14.20" fill="#d2d2d2" font-weight="bold" text-anchor="middle" >2016</text>
<rect x="894.7" y="878.5" width="57.6" height="264.80" fill="#f7b82b"/>
<text x="922.00" y="1165.20" font-size="14.20" fill="#d2d2d2" font-weight="bold" text-anchor="middle" >2017</text>
<text x="1162.70" y="797.49" font-size="21.50" fill="#111" font-weight="bold" text-anchor="end" >A</text>
<text x="1162.70" y="813.30" font-size="12.60" fill="#767676" text-anchor="end" textLength="139.00" lengthAdjust="spacingAndGlyphs" >Etiam rhoncus. Maecenas</text>
<text x="1162.70" y="826.80" font-size="12.60" fill="#767676" text-anchor="end" textLength="104.95" lengthAdjust="spacingAndGlyphs" >tempus, tellus eget</text>
<text x="1162.70" y="840.20" font-size="12.60" fill="#767676" text-anchor="end" textLength="126.49" lengthAdjust="spacingAndGlyphs" >condimentum rhoncus.</text>
<text x="1162.70" y="874.79" font-size="21.50" fill="#111" font-weight="bold" text-anchor="end" >B</text>
<text x="1162.70" y="893.60" font-size="12.60" fill="#767676" text-anchor="end" textLength="139.00" lengthAdjust="spacingAndGlyphs" >Etiam rhoncus. Maecenas</text>
<text x="1162.70" y="907.10" font-size="12.60" fill="#767676" text-anchor="end" textLength="104.95" lengthAdjust="spacingAndGlyphs" >tempus, tellus eget</text>
<text x="1162.70" y="920.50" font-size="12.60" fill="#767676" text-anchor="end" textLength="126.49" lengthAdjust="spacingAndGlyphs" >condimentum rhoncus.</text>
<text x="1162.70" y="957.09" font-size="21.50" fill="#111" font-weight="bold" text-anchor="end" >C</text>
<text x="1162.70" y="973.60" font-size="12.60" fill="#767676" text-anchor="end" textLength="139.00" lengthAdjust="spacingAndGlyphs" >Etiam rhoncus. Maecenas</text>
<text x="1162.70" y="987.10" font-size="12.60" fill="#767676" text-anchor="end" textLength="104.95" lengthAdjust="spacingAndGlyphs" >tempus, tellus eget</text>
<text x="1162.70" y="1000.50" font-size="12.60" fill="#767676" text-anchor="end" textLength="126.49" lengthAdjust="spacingAndGlyphs" >condimentum rhoncus.</text>
<text x="1162.70" y="1036.79" font-size="21.50" fill="#111" font-weight="bold" text-anchor="end" >D</text>
<text x="1162.70" y="1054.00" font-size="12.60" fill="#767676" text-anchor="end" textLength="139.00" lengthAdjust="spacingAndGlyphs" >Etiam rhoncus. Maecenas</text>
<text x="1162.70" y="1067.40" font-size="12.60" fill="#767676" text-anchor="end" textLength="104.95" lengthAdjust="spacingAndGlyphs" >tempus, tellus eget</text>
<text x="1162.70" y="1080.90" font-size="12.60" fill="#767676" text-anchor="end" textLength="126.49" lengthAdjust="spacingAndGlyphs" >condimentum rhoncus.</text>
<text x="1162.70" y="1120.79" font-size="21.50" fill="#111" font-weight="bold" text-anchor="end" >E</text>
<text x="1162.70" y="1134.00" font-size="12.60" fill="#767676" text-anchor="end" textLength="139.00" lengthAdjust="spacingAndGlyphs" >Etiam rhoncus. Maecenas</text>
<text x="1162.70" y="1147.40" font-size="12.60" fill="#767676" text-anchor="end" textLength="104.95" lengthAdjust="spacingAndGlyphs" >tempus, tellus eget</text>
<text x="1162.70" y="1160.90" font-size="12.60" fill="#767676" text-anchor="end" textLength="126.49" lengthAdjust="spacingAndGlyphs" >condimentum rhoncus.</text>
<text x="819.00" y="1223.80" font-size="14.20" fill="#555" text-anchor="middle" textLength="519.30" lengthAdjust="spacingAndGlyphs" >Lorem ipsum dolor sit amet, consectetur adipiscing elit, sed do eiusmod tempor</text><text x="819.00" y="1241.40" font-size="14.20" fill="#555" text-anchor="middle" textLength="283.16" lengthAdjust="spacingAndGlyphs" >incididunt ut labore et dolore magna aliqua.</text>
<g transform="translate(857.5,924.5) scale(0.544,1)"><text x="0" y="0" font-size="70.1" font-weight="bold" fill="#fff" fill-opacity="0.42" stroke="#fff" stroke-opacity="0.252" stroke-width="1.5">alamy</text></g>
<g transform="translate(587.0,918.0) scale(0.684,1)"><text x="0" y="0" font-size="47.3" font-weight="bold" fill="#fff" fill-opacity="0.45" stroke="#fff" stroke-opacity="0.27" stroke-width="1.5">a</text></g>
<g transform="translate(757.0,1048.0) scale(0.684,1)"><text x="0" y="0" font-size="47.3" font-weight="bold" fill="#fff" fill-opacity="0.45" stroke="#fff" stroke-opacity="0.27" stroke-width="1.5">a</text></g>
<g transform="translate(303.5,397.0) scale(0.750,1)"><text x="0" y="0" font-size="36.0" font-weight="bold" fill="#fff" fill-opacity="0.4" stroke="#fff" stroke-opacity="0.24" stroke-width="1.5">a</text></g>
<g transform="translate(562.0,680.0) scale(0.512,1)"><text x="0" y="0" font-size="75.8" font-weight="bold" fill="#fff" fill-opacity="0.5" stroke="#fff" stroke-opacity="0.3" stroke-width="1.5">alamy</text></g>
<g transform="translate(116.0,540.0) scale(0.514,1)"><text x="0" y="0" font-size="79.5" font-weight="bold" fill="#fff" fill-opacity="0.42" stroke="#fff" stroke-opacity="0.252" stroke-width="1.5">alamy</text></g>
<g transform="translate(118.0,1318.0) scale(0.521,1)"><text x="0" y="0" font-size="75.8" font-weight="bold" fill="#fff" fill-opacity="0.5" stroke="#fff" stroke-opacity="0.3" stroke-width="1.5">alamy</text></g>
<g transform="translate(1008.0,1318.0) scale(0.521,1)"><text x="0" y="0" font-size="75.8" font-weight="bold" fill="#fff" fill-opacity="0.5" stroke="#fff" stroke-opacity="0.3" stroke-width="1.5">alamy</text></g>
<g transform="translate(160.0,8.0) scale(0.712,1)"><text x="0" y="0" font-size="37.9" font-weight="bold" fill="#fff" fill-opacity="0.35" stroke="#fff" stroke-opacity="0.21" stroke-width="1.5">a</text></g>
<g transform="translate(458.0,8.0) scale(0.712,1)"><text x="0" y="0" font-size="37.9" font-weight="bold" fill="#fff" fill-opacity="0.35" stroke="#fff" stroke-opacity="0.21" stroke-width="1.5">a</text></g>
<g transform="translate(760.0,8.0) scale(0.712,1)"><text x="0" y="0" font-size="37.9" font-weight="bold" fill="#fff" fill-opacity="0.35" stroke="#fff" stroke-opacity="0.21" stroke-width="1.5">a</text></g>
<g transform="translate(1058.0,8.0) scale(0.712,1)"><text x="0" y="0" font-size="37.9" font-weight="bold" fill="#fff" fill-opacity="0.35" stroke="#fff" stroke-opacity="0.21" stroke-width="1.5">a</text></g>
<g transform="translate(8.0,402.0) scale(0.712,1)"><text x="0" y="0" font-size="37.9" font-weight="bold" fill="#fff" fill-opacity="0.35" stroke="#fff" stroke-opacity="0.21" stroke-width="1.5">a</text></g>
<g transform="translate(8.0,683.0) scale(0.712,1)"><text x="0" y="0" font-size="37.9" font-weight="bold" fill="#fff" fill-opacity="0.35" stroke="#fff" stroke-opacity="0.21" stroke-width="1.5">a</text></g>
<g transform="translate(8.0,1216.0) scale(0.712,1)"><text x="0" y="0" font-size="37.9" font-weight="bold" fill="#fff" fill-opacity="0.35" stroke="#fff" stroke-opacity="0.21" stroke-width="1.5">a</text></g>
<g transform="translate(310.0,662.0) scale(0.712,1)"><text x="0" y="0" font-size="37.9" font-weight="bold" fill="#fff" fill-opacity="0.35" stroke="#fff" stroke-opacity="0.21" stroke-width="1.5">a</text></g>
<g transform="translate(1212.0,112.0) scale(0.712,1)"><text x="0" y="0" font-size="37.9" font-weight="bold" fill="#fff" fill-opacity="0.35" stroke="#fff" stroke-opacity="0.21" stroke-width="1.5">a</text></g>
<g transform="translate(1212.0,402.0) scale(0.712,1)"><text x="0" y="0" font-size="37.9" font-weight="bold" fill="#fff" fill-opacity="0.35" stroke="#fff" stroke-opacity="0.21" stroke-width="1.5">a</text></g>
<g transform="translate(1212.0,683.0) scale(0.712,1)"><text x="0" y="0" font-size="37.9" font-weight="bold" fill="#fff" fill-opacity="0.35" stroke="#fff" stroke-opacity="0.21" stroke-width="1.5">a</text></g>
<g transform="translate(1212.0,968.0) scale(0.712,1)"><text x="0" y="0" font-size="37.9" font-weight="bold" fill="#fff" fill-opacity="0.35" stroke="#fff" stroke-opacity="0.21" stroke-width="1.5">a</text></g>
<g transform="translate(1212.0,1258.0) scale(0.712,1)"><text x="0" y="0" font-size="37.9" font-weight="bold" fill="#fff" fill-opacity="0.35" stroke="#fff" stroke-opacity="0.21" stroke-width="1.5">a</text></g>
<g transform="translate(455.0,1318.0) scale(0.712,1)"><text x="0" y="0" font-size="37.9" font-weight="bold" fill="#fff" fill-opacity="0.35" stroke="#fff" stroke-opacity="0.21" stroke-width="1.5">a</text></g>
<g transform="translate(760.0,1318.0) scale(0.712,1)"><text x="0" y="0" font-size="37.9" font-weight="bold" fill="#fff" fill-opacity="0.35" stroke="#fff" stroke-opacity="0.21" stroke-width="1.5">a</text></g>
<g transform="translate(-1.0,122.0) scale(0.410,1)"><text x="0" y="0" font-size="64.4" font-weight="bold" fill="#fff" fill-opacity="0.45" stroke="#fff" stroke-opacity="0.27" stroke-width="1.5">al</text></g>
<g transform="translate(-1.0,945.0) scale(0.410,1)"><text x="0" y="0" font-size="64.4" font-weight="bold" fill="#fff" fill-opacity="0.45" stroke="#fff" stroke-opacity="0.27" stroke-width="1.5">al</text></g>
<rect x="0" y="1300" width="1235" height="90" fill="#000"/>
<g transform="translate(50.5,1360.4) scale(0.6,1)"><text x="0" y="0" font-size="62" font-weight="bold" fill="#fff" stroke="#fff" stroke-width="2.2" letter-spacing="-2">alamy</text></g>
<text x="1184.60" y="1337.20" font-size="14.20" fill="#e6e6e6" text-anchor="end" textLength="128.50" lengthAdjust="spacingAndGlyphs" >Image ID: 2RBTA26</text>
<text x="1185.00" y="1360.80" font-size="15.20" fill="#fff" font-weight="bold" text-anchor="end" textLength="134.60" lengthAdjust="spacingAndGlyphs" >www.alamy.com</text>
</svg>
</body></html>
